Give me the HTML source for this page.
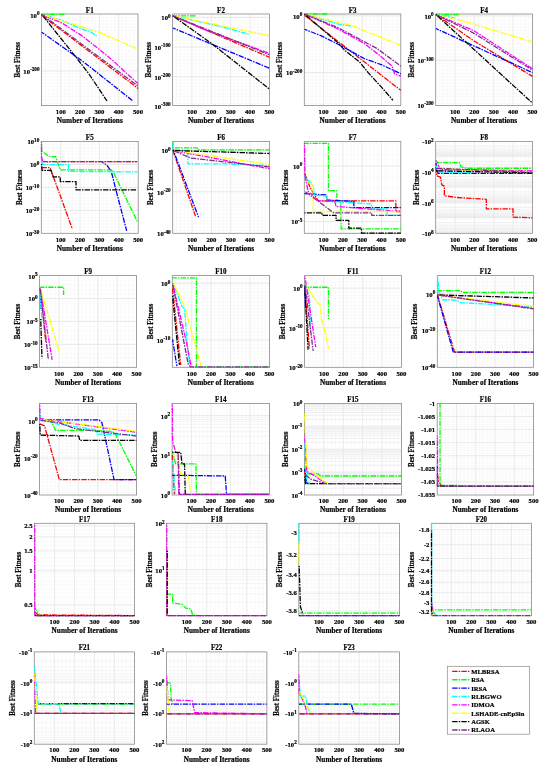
<!DOCTYPE html>
<html><head><meta charset="utf-8"><style>
html,body{margin:0;padding:0;background:#fff;}
svg{display:block;}
text{font-family:"Liberation Serif","Times New Roman",serif;font-weight:bold;fill:#000;stroke:#000;stroke-width:0.2px;}
</style></head><body>
<svg width="550" height="770" viewBox="0 0 550 770">
<rect width="550" height="770" fill="#fff"/>
<path d="M45.36 14V105.6M49.22 14V105.6M53.08 14V105.6M56.94 14V105.6M64.66 14V105.6M68.52 14V105.6M72.38 14V105.6M76.24 14V105.6M83.96 14V105.6M87.82 14V105.6M91.68 14V105.6M95.54 14V105.6M103.26 14V105.6M107.12 14V105.6M110.98 14V105.6M114.84 14V105.6M122.56 14V105.6M126.42 14V105.6M130.28 14V105.6M134.14 14V105.6" stroke="#f6f6f6" stroke-width="0.6" fill="none"/>
<path d="M41.5 17.3H138M41.5 20.6H138M41.5 23.9H138M41.5 27.2H138M41.5 30.5H138M41.5 33.8H138M41.5 37.1H138M41.5 40.4H138M41.5 43.7H138M41.5 47H138M41.5 50.3H138M41.5 53.6H138M41.5 56.9H138M41.5 60.2H138M41.5 63.5H138M41.5 66.8H138M41.5 70.1H138M41.5 73.4H138M41.5 76.7H138M41.5 80H138M41.5 83.3H138M41.5 86.6H138M41.5 89.9H138M41.5 93.2H138M41.5 96.5H138M41.5 99.8H138M41.5 103.1H138" stroke="#f6f6f6" stroke-width="0.6" fill="none"/>
<path d="M60.8 14V105.6M80.1 14V105.6M99.4 14V105.6M118.7 14V105.6M41.5 71H138" stroke="#e4e4e4" stroke-width="0.8" fill="none"/>
<rect x="41.5" y="14" width="96.5" height="91.6" fill="none" stroke="#8a8a8a" stroke-width="0.8"/>
<clipPath id="cF1"><rect x="40.5" y="13" width="98.5" height="93.6"/></clipPath>
<g clip-path="url(#cF1)" fill="none" stroke-width="1.3" stroke-dasharray="5.4,1.1,1.5,1.2" stroke-linejoin="round">
<path d="M41.7 15.3 138 88.4" stroke="#ff0000" stroke-dashoffset="0"/>
<path d="M41.7 14.4 65 14.4" stroke="#00ff00" stroke-dashoffset="1.15"/>
<path d="M41.7 32.2 82.5 61.1 133 101" stroke="#0000ff" stroke-dashoffset="2.3"/>
<path d="M41.7 14.4 61.8 20.2 72.7 25.1 81.4 28.9 90.2 31.6 96.7 36" stroke="#00ffff" stroke-dashoffset="3.45"/>
<path d="M41.7 14.4 50.9 18.5 61.8 22.9 70.5 28.4 81.4 35.4 89.1 41.4 98.9 49.1 115 62.4 125 72 138 83.6" stroke="#ff00ff" stroke-dashoffset="4.6"/>
<path d="M41.7 14.4 98.9 32.2 138 49.2" stroke="#ffff00" stroke-dashoffset="5.75"/>
<path d="M41.7 14.4 78.2 60 89 74 107 101" stroke="#000000" stroke-dashoffset="6.9"/>
<path d="M41.7 14.4 138 86" stroke="#7e2f8e" stroke-dashoffset="8.05"/>
</g>
<text x="89.75" y="12.5" text-anchor="middle" font-size="7.4" textLength="7.78" lengthAdjust="spacingAndGlyphs">F1</text>
<text x="60.8" y="113.8" text-anchor="middle" font-size="6.7">100</text>
<text x="80.1" y="113.8" text-anchor="middle" font-size="6.7">200</text>
<text x="99.4" y="113.8" text-anchor="middle" font-size="6.7">300</text>
<text x="118.7" y="113.8" text-anchor="middle" font-size="6.7">400</text>
<text x="138" y="113.8" text-anchor="middle" font-size="6.7">500</text>
<text x="89.75" y="122.9" text-anchor="middle" font-size="7.25" textLength="66" lengthAdjust="spacing">Number of Iterations</text>
<text transform="translate(19.5 59.8) rotate(-90)" x="0" y="0" text-anchor="middle" font-size="7.7" textLength="35.4" lengthAdjust="spacingAndGlyphs">Best Fitness</text>
<text x="39.5" y="17.7" text-anchor="end" font-size="6.7">10<tspan dy="-2.7" font-size="5.2">0</tspan></text>
<text x="39.5" y="73.9" text-anchor="end" font-size="6.7">10<tspan dy="-2.7" font-size="5.2">-200</tspan></text>
<path d="M176.47 14V105.6M180.34 14V105.6M184.22 14V105.6M188.09 14V105.6M195.83 14V105.6M199.7 14V105.6M203.58 14V105.6M207.45 14V105.6M215.19 14V105.6M219.06 14V105.6M222.94 14V105.6M226.81 14V105.6M234.55 14V105.6M238.42 14V105.6M242.3 14V105.6M246.17 14V105.6M253.91 14V105.6M257.78 14V105.6M261.66 14V105.6M265.53 14V105.6" stroke="#f6f6f6" stroke-width="0.6" fill="none"/>
<path d="M172.6 17.3H269.4M172.6 20.6H269.4M172.6 23.9H269.4M172.6 27.2H269.4M172.6 30.5H269.4M172.6 33.8H269.4M172.6 37.1H269.4M172.6 40.4H269.4M172.6 43.7H269.4M172.6 47H269.4M172.6 50.3H269.4M172.6 53.6H269.4M172.6 56.9H269.4M172.6 60.2H269.4M172.6 63.5H269.4M172.6 66.8H269.4M172.6 70.1H269.4M172.6 73.4H269.4M172.6 76.7H269.4M172.6 80H269.4M172.6 83.3H269.4M172.6 86.6H269.4M172.6 89.9H269.4M172.6 93.2H269.4M172.6 96.5H269.4M172.6 99.8H269.4M172.6 103.1H269.4" stroke="#f6f6f6" stroke-width="0.6" fill="none"/>
<path d="M191.96 14V105.6M211.32 14V105.6M230.68 14V105.6M250.04 14V105.6M172.6 17.4H269.4M172.6 47H269.4M172.6 76.6H269.4" stroke="#e4e4e4" stroke-width="0.8" fill="none"/>
<rect x="172.6" y="14" width="96.8" height="91.6" fill="none" stroke="#8a8a8a" stroke-width="0.8"/>
<clipPath id="cF2"><rect x="171.6" y="13" width="98.8" height="93.6"/></clipPath>
<g clip-path="url(#cF2)" fill="none" stroke-width="1.3" stroke-dasharray="5.4,1.1,1.5,1.2" stroke-linejoin="round">
<path d="M172.8 15.78 269.4 57.25" stroke="#ff0000" stroke-dashoffset="0"/>
<path d="M172.8 15.78 195.98 15.78" stroke="#00ff00" stroke-dashoffset="1.15"/>
<path d="M172.8 27.99 269.4 68.19" stroke="#0000ff" stroke-dashoffset="2.3"/>
<path d="M172.8 15.78 216.34 25.45 249.41 34.35" stroke="#00ffff" stroke-dashoffset="3.45"/>
<path d="M172.8 15.78 203.61 29.26 269.4 53.44" stroke="#ff00ff" stroke-dashoffset="4.6"/>
<path d="M172.8 15.78 269.4 35.62" stroke="#ffff00" stroke-dashoffset="5.75"/>
<path d="M172.8 15.78 211.25 43.26 269.4 89.06" stroke="#000000" stroke-dashoffset="6.9"/>
<path d="M172.8 15.78 269.4 54.71" stroke="#7e2f8e" stroke-dashoffset="8.05"/>
</g>
<text x="221" y="12.5" text-anchor="middle" font-size="7.4" textLength="7.78" lengthAdjust="spacingAndGlyphs">F2</text>
<text x="191.96" y="113.8" text-anchor="middle" font-size="6.7">100</text>
<text x="211.32" y="113.8" text-anchor="middle" font-size="6.7">200</text>
<text x="230.68" y="113.8" text-anchor="middle" font-size="6.7">300</text>
<text x="250.04" y="113.8" text-anchor="middle" font-size="6.7">400</text>
<text x="269.4" y="113.8" text-anchor="middle" font-size="6.7">500</text>
<text x="221" y="122.9" text-anchor="middle" font-size="7.25" textLength="66" lengthAdjust="spacing">Number of Iterations</text>
<text transform="translate(151.1 59.8) rotate(-90)" x="0" y="0" text-anchor="middle" font-size="7.7" textLength="35.4" lengthAdjust="spacingAndGlyphs">Best Fitness</text>
<text x="170.6" y="20.3" text-anchor="end" font-size="6.7">10<tspan dy="-2.7" font-size="5.2">0</tspan></text>
<text x="170.6" y="49.9" text-anchor="end" font-size="6.7">10<tspan dy="-2.7" font-size="5.2">-100</tspan></text>
<text x="170.6" y="79.5" text-anchor="end" font-size="6.7">10<tspan dy="-2.7" font-size="5.2">-200</tspan></text>
<text x="170.6" y="109.1" text-anchor="end" font-size="6.7">10<tspan dy="-2.7" font-size="5.2">-300</tspan></text>
<path d="M308.16 14V105.6M312.02 14V105.6M315.88 14V105.6M319.74 14V105.6M327.46 14V105.6M331.32 14V105.6M335.18 14V105.6M339.04 14V105.6M346.76 14V105.6M350.62 14V105.6M354.48 14V105.6M358.34 14V105.6M366.06 14V105.6M369.92 14V105.6M373.78 14V105.6M377.64 14V105.6M385.36 14V105.6M389.22 14V105.6M393.08 14V105.6M396.94 14V105.6" stroke="#f6f6f6" stroke-width="0.6" fill="none"/>
<path d="M304.3 17.3H400.8M304.3 20.6H400.8M304.3 23.9H400.8M304.3 27.2H400.8M304.3 30.5H400.8M304.3 33.8H400.8M304.3 37.1H400.8M304.3 40.4H400.8M304.3 43.7H400.8M304.3 47H400.8M304.3 50.3H400.8M304.3 53.6H400.8M304.3 56.9H400.8M304.3 60.2H400.8M304.3 63.5H400.8M304.3 66.8H400.8M304.3 70.1H400.8M304.3 73.4H400.8M304.3 76.7H400.8M304.3 80H400.8M304.3 83.3H400.8M304.3 86.6H400.8M304.3 89.9H400.8M304.3 93.2H400.8M304.3 96.5H400.8M304.3 99.8H400.8M304.3 103.1H400.8" stroke="#f6f6f6" stroke-width="0.6" fill="none"/>
<path d="M323.6 14V105.6M342.9 14V105.6M362.2 14V105.6M381.5 14V105.6M304.3 15.8H400.8M304.3 72.5H400.8" stroke="#e4e4e4" stroke-width="0.8" fill="none"/>
<rect x="304.3" y="14" width="96.5" height="91.6" fill="none" stroke="#8a8a8a" stroke-width="0.8"/>
<clipPath id="cF3"><rect x="303.3" y="13" width="98.5" height="93.6"/></clipPath>
<g clip-path="url(#cF3)" fill="none" stroke-width="1.3" stroke-dasharray="5.4,1.1,1.5,1.2" stroke-linejoin="round">
<path d="M304.5 15.27 400.8 90.33" stroke="#ff0000" stroke-dashoffset="0"/>
<path d="M304.5 14 328.44 14" stroke="#00ff00" stroke-dashoffset="1.15"/>
<path d="M304.5 29.26 320.8 35.62 341.16 45.8 364.06 58.52 381.87 64.89 400.8 73.79" stroke="#0000ff" stroke-dashoffset="2.3"/>
<path d="M304.5 14 338.61 24.17 351.34 25.95" stroke="#00ffff" stroke-dashoffset="3.45"/>
<path d="M304.5 14 338.61 29.26 364.06 43.26 381.87 57.25 392.05 66.16 394.59 73.79 400.8 76.34" stroke="#ff00ff" stroke-dashoffset="4.6"/>
<path d="M304.5 14 351.34 25.45 400.8 45.29" stroke="#ffff00" stroke-dashoffset="5.75"/>
<path d="M304.5 14 338.61 43.26 344.9 50.51 359.61 62.01 368.38 72.9 381.41 87.1 392.91 100.2" stroke="#000000" stroke-dashoffset="6.9"/>
<path d="M304.5 14 338.61 27.99 376.78 48.35 400.8 66.16" stroke="#7e2f8e" stroke-dashoffset="8.05"/>
</g>
<text x="352.55" y="12.5" text-anchor="middle" font-size="7.4" textLength="7.78" lengthAdjust="spacingAndGlyphs">F3</text>
<text x="323.6" y="113.8" text-anchor="middle" font-size="6.7">100</text>
<text x="342.9" y="113.8" text-anchor="middle" font-size="6.7">200</text>
<text x="362.2" y="113.8" text-anchor="middle" font-size="6.7">300</text>
<text x="381.5" y="113.8" text-anchor="middle" font-size="6.7">400</text>
<text x="400.8" y="113.8" text-anchor="middle" font-size="6.7">500</text>
<text x="352.55" y="122.9" text-anchor="middle" font-size="7.25" textLength="66" lengthAdjust="spacing">Number of Iterations</text>
<text transform="translate(281.8 59.8) rotate(-90)" x="0" y="0" text-anchor="middle" font-size="7.7" textLength="35.4" lengthAdjust="spacingAndGlyphs">Best Fitness</text>
<text x="302.3" y="18.7" text-anchor="end" font-size="6.7">10<tspan dy="-2.7" font-size="5.2">0</tspan></text>
<text x="302.3" y="75.4" text-anchor="end" font-size="6.7">10<tspan dy="-2.7" font-size="5.2">-200</tspan></text>
<path d="M439.57 14V105.6M443.44 14V105.6M447.3 14V105.6M451.17 14V105.6M458.91 14V105.6M462.78 14V105.6M466.64 14V105.6M470.51 14V105.6M478.25 14V105.6M482.12 14V105.6M485.98 14V105.6M489.85 14V105.6M497.59 14V105.6M501.46 14V105.6M505.32 14V105.6M509.19 14V105.6M516.93 14V105.6M520.8 14V105.6M524.66 14V105.6M528.53 14V105.6" stroke="#f6f6f6" stroke-width="0.6" fill="none"/>
<path d="M435.7 17.3H532.4M435.7 20.6H532.4M435.7 23.9H532.4M435.7 27.2H532.4M435.7 30.5H532.4M435.7 33.8H532.4M435.7 37.1H532.4M435.7 40.4H532.4M435.7 43.7H532.4M435.7 47H532.4M435.7 50.3H532.4M435.7 53.6H532.4M435.7 56.9H532.4M435.7 60.2H532.4M435.7 63.5H532.4M435.7 66.8H532.4M435.7 70.1H532.4M435.7 73.4H532.4M435.7 76.7H532.4M435.7 80H532.4M435.7 83.3H532.4M435.7 86.6H532.4M435.7 89.9H532.4M435.7 93.2H532.4M435.7 96.5H532.4M435.7 99.8H532.4M435.7 103.1H532.4" stroke="#f6f6f6" stroke-width="0.6" fill="none"/>
<path d="M455.04 14V105.6M474.38 14V105.6M493.72 14V105.6M513.06 14V105.6M435.7 15.8H532.4M435.7 60.3H532.4" stroke="#e4e4e4" stroke-width="0.8" fill="none"/>
<rect x="435.7" y="14" width="96.7" height="91.6" fill="none" stroke="#8a8a8a" stroke-width="0.8"/>
<clipPath id="cF4"><rect x="434.7" y="13" width="98.7" height="93.6"/></clipPath>
<g clip-path="url(#cF4)" fill="none" stroke-width="1.3" stroke-dasharray="5.4,1.1,1.5,1.2" stroke-linejoin="round">
<path d="M435.9 14.5 473.61 40.71 532.4 76.34" stroke="#ff0000" stroke-dashoffset="0"/>
<path d="M435.9 14.5 459.62 14.5" stroke="#00ff00" stroke-dashoffset="1.15"/>
<path d="M435.9 28.5 473.61 45.8 532.4 72.52" stroke="#0000ff" stroke-dashoffset="2.3"/>
<path d="M435.9 14.5 454.53 17.81" stroke="#00ffff" stroke-dashoffset="3.45"/>
<path d="M435.9 14.5 473.61 30.53 532.4 68.7" stroke="#ff00ff" stroke-dashoffset="4.6"/>
<path d="M435.9 14.5 460.89 20.36 532.4 41.98" stroke="#ffff00" stroke-dashoffset="5.75"/>
<path d="M435.9 14.5 532.4 103.05" stroke="#000000" stroke-dashoffset="6.9"/>
<path d="M435.9 14.5 473.61 33.08 532.4 69.97" stroke="#7e2f8e" stroke-dashoffset="8.05"/>
</g>
<text x="484.05" y="12.5" text-anchor="middle" font-size="7.4" textLength="7.78" lengthAdjust="spacingAndGlyphs">F4</text>
<text x="455.04" y="113.8" text-anchor="middle" font-size="6.7">100</text>
<text x="474.38" y="113.8" text-anchor="middle" font-size="6.7">200</text>
<text x="493.72" y="113.8" text-anchor="middle" font-size="6.7">300</text>
<text x="513.06" y="113.8" text-anchor="middle" font-size="6.7">400</text>
<text x="532.4" y="113.8" text-anchor="middle" font-size="6.7">500</text>
<text x="484.05" y="122.9" text-anchor="middle" font-size="7.25" textLength="66" lengthAdjust="spacing">Number of Iterations</text>
<text transform="translate(414.2 59.8) rotate(-90)" x="0" y="0" text-anchor="middle" font-size="7.7" textLength="35.4" lengthAdjust="spacingAndGlyphs">Best Fitness</text>
<text x="433.7" y="18.7" text-anchor="end" font-size="6.7">10<tspan dy="-2.7" font-size="5.2">0</tspan></text>
<text x="433.7" y="63.2" text-anchor="end" font-size="6.7">10<tspan dy="-2.7" font-size="5.2">-100</tspan></text>
<text x="433.7" y="107.7" text-anchor="end" font-size="6.7">10<tspan dy="-2.7" font-size="5.2">-200</tspan></text>
<path d="M45.18 141.5V233.3M49.05 141.5V233.3M52.93 141.5V233.3M56.8 141.5V233.3M64.56 141.5V233.3M68.43 141.5V233.3M72.31 141.5V233.3M76.18 141.5V233.3M83.94 141.5V233.3M87.81 141.5V233.3M91.69 141.5V233.3M95.56 141.5V233.3M103.32 141.5V233.3M107.19 141.5V233.3M111.07 141.5V233.3M114.94 141.5V233.3M122.7 141.5V233.3M126.57 141.5V233.3M130.45 141.5V233.3M134.32 141.5V233.3" stroke="#f6f6f6" stroke-width="0.6" fill="none"/>
<path d="M41.3 144.8H138.2M41.3 148.1H138.2M41.3 151.4H138.2M41.3 154.7H138.2M41.3 158H138.2M41.3 161.3H138.2M41.3 164.6H138.2M41.3 167.9H138.2M41.3 171.2H138.2M41.3 174.5H138.2M41.3 177.8H138.2M41.3 181.1H138.2M41.3 184.4H138.2M41.3 187.7H138.2M41.3 191H138.2M41.3 194.3H138.2M41.3 197.6H138.2M41.3 200.9H138.2M41.3 204.2H138.2M41.3 207.5H138.2M41.3 210.8H138.2M41.3 214.1H138.2M41.3 217.4H138.2M41.3 220.7H138.2M41.3 224H138.2M41.3 227.3H138.2M41.3 230.6H138.2" stroke="#f6f6f6" stroke-width="0.6" fill="none"/>
<path d="M60.68 141.5V233.3M80.06 141.5V233.3M99.44 141.5V233.3M118.82 141.5V233.3M41.3 164.45H138.2M41.3 187.4H138.2M41.3 210.35H138.2" stroke="#e4e4e4" stroke-width="0.8" fill="none"/>
<rect x="41.3" y="141.5" width="96.9" height="91.8" fill="none" stroke="#8a8a8a" stroke-width="0.8"/>
<clipPath id="cF5"><rect x="40.3" y="140.5" width="98.9" height="93.8"/></clipPath>
<g clip-path="url(#cF5)" fill="none" stroke-width="1.3" stroke-dasharray="5.4,1.1,1.5,1.2" stroke-linejoin="round">
<path d="M41.5 167.68 50.06 167.68 72.32 228.91" stroke="#ff0000" stroke-dashoffset="0"/>
<path d="M41.5 145.42 41.71 150.99 49.13 156.55 55.63 156.55 60.26 169.91 112.21 169.91 137.26 221.49" stroke="#00ff00" stroke-dashoffset="1.15"/>
<path d="M101.08 161.56 106.65 164.9 111.28 171.4 115.92 189.95 126.68 230.76" stroke="#0000ff" stroke-dashoffset="2.3"/>
<path d="M41.5 156.55 42.64 164.53 68.61 164.53 68.61 171.4 137.26 171.95" stroke="#00ffff" stroke-dashoffset="3.45"/>
<path d="M41.5 142.08 41.5 156.55 42.64 161.56 137.26 161.56" stroke="#ff00ff" stroke-dashoffset="4.6"/>
<path d="M41.5 161.56 137.26 161.56" stroke="#ffff00" stroke-dashoffset="5.75"/>
<path d="M41.5 163.97 42.08 170.47 50.99 170.47 53.21 176.96 60.26 176.96 60.26 181.6 76.03 181.6 76.03 189.95 137.26 189.95" stroke="#000000" stroke-dashoffset="6.9"/>
<path d="M41.5 161.56 137.26 161.56" stroke="#7e2f8e" stroke-dashoffset="8.05"/>
</g>
<text x="89.75" y="140" text-anchor="middle" font-size="7.4" textLength="7.78" lengthAdjust="spacingAndGlyphs">F5</text>
<text x="60.68" y="241.5" text-anchor="middle" font-size="6.7">100</text>
<text x="80.06" y="241.5" text-anchor="middle" font-size="6.7">200</text>
<text x="99.44" y="241.5" text-anchor="middle" font-size="6.7">300</text>
<text x="118.82" y="241.5" text-anchor="middle" font-size="6.7">400</text>
<text x="138.2" y="241.5" text-anchor="middle" font-size="6.7">500</text>
<text x="89.75" y="250.6" text-anchor="middle" font-size="7.25" textLength="66" lengthAdjust="spacing">Number of Iterations</text>
<text transform="translate(22 187.4) rotate(-90)" x="0" y="0" text-anchor="middle" font-size="7.7" textLength="35.4" lengthAdjust="spacingAndGlyphs">Best Fitness</text>
<text x="39.3" y="144.4" text-anchor="end" font-size="6.7">10<tspan dy="-2.7" font-size="5.2">10</tspan></text>
<text x="39.3" y="167.35" text-anchor="end" font-size="6.7">10<tspan dy="-2.7" font-size="5.2">0</tspan></text>
<text x="39.3" y="190.3" text-anchor="end" font-size="6.7">10<tspan dy="-2.7" font-size="5.2">-10</tspan></text>
<text x="39.3" y="213.25" text-anchor="end" font-size="6.7">10<tspan dy="-2.7" font-size="5.2">-20</tspan></text>
<text x="39.3" y="236.2" text-anchor="end" font-size="6.7">10<tspan dy="-2.7" font-size="5.2">-30</tspan></text>
<path d="M176.57 141.5V233.3M180.44 141.5V233.3M184.32 141.5V233.3M188.19 141.5V233.3M195.93 141.5V233.3M199.8 141.5V233.3M203.68 141.5V233.3M207.55 141.5V233.3M215.29 141.5V233.3M219.16 141.5V233.3M223.04 141.5V233.3M226.91 141.5V233.3M234.65 141.5V233.3M238.52 141.5V233.3M242.4 141.5V233.3M246.27 141.5V233.3M254.01 141.5V233.3M257.88 141.5V233.3M261.76 141.5V233.3M265.63 141.5V233.3" stroke="#f6f6f6" stroke-width="0.6" fill="none"/>
<path d="M172.7 144.8H269.5M172.7 148.1H269.5M172.7 151.4H269.5M172.7 154.7H269.5M172.7 158H269.5M172.7 161.3H269.5M172.7 164.6H269.5M172.7 167.9H269.5M172.7 171.2H269.5M172.7 174.5H269.5M172.7 177.8H269.5M172.7 181.1H269.5M172.7 184.4H269.5M172.7 187.7H269.5M172.7 191H269.5M172.7 194.3H269.5M172.7 197.6H269.5M172.7 200.9H269.5M172.7 204.2H269.5M172.7 207.5H269.5M172.7 210.8H269.5M172.7 214.1H269.5M172.7 217.4H269.5M172.7 220.7H269.5M172.7 224H269.5M172.7 227.3H269.5M172.7 230.6H269.5" stroke="#f6f6f6" stroke-width="0.6" fill="none"/>
<path d="M192.06 141.5V233.3M211.42 141.5V233.3M230.78 141.5V233.3M250.14 141.5V233.3M172.7 150.3H269.5M172.7 191.8H269.5" stroke="#e4e4e4" stroke-width="0.8" fill="none"/>
<rect x="172.7" y="141.5" width="96.8" height="91.8" fill="none" stroke="#8a8a8a" stroke-width="0.8"/>
<clipPath id="cF6"><rect x="171.7" y="140.5" width="98.8" height="93.8"/></clipPath>
<g clip-path="url(#cF6)" fill="none" stroke-width="1.3" stroke-dasharray="5.4,1.1,1.5,1.2" stroke-linejoin="round">
<path d="M172.9 150.45 195.47 216.09" stroke="#ff0000" stroke-dashoffset="0"/>
<path d="M172.9 141.54 173.08 147.9 197.25 147.9 198.02 149.94 269.5 149.94" stroke="#00ff00" stroke-dashoffset="1.15"/>
<path d="M172.9 149.17 198.52 217.11" stroke="#0000ff" stroke-dashoffset="2.3"/>
<path d="M172.9 142.81 173.08 150.45 187.84 150.45 187.84 163.93 229.06 163.93 269.5 165.71" stroke="#00ffff" stroke-dashoffset="3.45"/>
<path d="M172.9 150.45 269.5 168.77" stroke="#ff00ff" stroke-dashoffset="4.6"/>
<path d="M172.9 150.45 269.5 164.44" stroke="#ffff00" stroke-dashoffset="5.75"/>
<path d="M172.9 150.45 269.5 153.5" stroke="#000000" stroke-dashoffset="6.9"/>
<path d="M172.9 150.45 190.89 158.08 269.5 166.98" stroke="#7e2f8e" stroke-dashoffset="8.05"/>
</g>
<text x="221.1" y="140" text-anchor="middle" font-size="7.4" textLength="7.78" lengthAdjust="spacingAndGlyphs">F6</text>
<text x="192.06" y="241.5" text-anchor="middle" font-size="6.7">100</text>
<text x="211.42" y="241.5" text-anchor="middle" font-size="6.7">200</text>
<text x="230.78" y="241.5" text-anchor="middle" font-size="6.7">300</text>
<text x="250.14" y="241.5" text-anchor="middle" font-size="6.7">400</text>
<text x="269.5" y="241.5" text-anchor="middle" font-size="6.7">500</text>
<text x="221.1" y="250.6" text-anchor="middle" font-size="7.25" textLength="66" lengthAdjust="spacing">Number of Iterations</text>
<text transform="translate(152.9 187.4) rotate(-90)" x="0" y="0" text-anchor="middle" font-size="7.7" textLength="35.4" lengthAdjust="spacingAndGlyphs">Best Fitness</text>
<text x="170.7" y="153.2" text-anchor="end" font-size="6.7">10<tspan dy="-2.7" font-size="5.2">0</tspan></text>
<text x="170.7" y="194.7" text-anchor="end" font-size="6.7">10<tspan dy="-2.7" font-size="5.2">-20</tspan></text>
<text x="170.7" y="236.2" text-anchor="end" font-size="6.7">10<tspan dy="-2.7" font-size="5.2">-40</tspan></text>
<path d="M308.16 141.5V233.3M312.02 141.5V233.3M315.88 141.5V233.3M319.74 141.5V233.3M327.46 141.5V233.3M331.32 141.5V233.3M335.18 141.5V233.3M339.04 141.5V233.3M346.76 141.5V233.3M350.62 141.5V233.3M354.48 141.5V233.3M358.34 141.5V233.3M366.06 141.5V233.3M369.92 141.5V233.3M373.78 141.5V233.3M377.64 141.5V233.3M385.36 141.5V233.3M389.22 141.5V233.3M393.08 141.5V233.3M396.94 141.5V233.3" stroke="#f6f6f6" stroke-width="0.6" fill="none"/>
<path d="M304.3 143.8H400.8M304.3 154.9H400.8M304.3 177.1H400.8M304.3 188.2H400.8M304.3 199.3H400.8M304.3 210.4H400.8M304.3 232.6H400.8" stroke="#f6f6f6" stroke-width="0.6" fill="none"/>
<path d="M323.6 141.5V233.3M342.9 141.5V233.3M362.2 141.5V233.3M381.5 141.5V233.3M304.3 166H400.8M304.3 221.5H400.8" stroke="#e4e4e4" stroke-width="0.8" fill="none"/>
<rect x="304.3" y="141.5" width="96.5" height="91.8" fill="none" stroke="#8a8a8a" stroke-width="0.8"/>
<clipPath id="cF7"><rect x="303.3" y="140.5" width="98.5" height="93.8"/></clipPath>
<g clip-path="url(#cF7)" fill="none" stroke-width="1.3" stroke-dasharray="5.4,1.1,1.5,1.2" stroke-linejoin="round">
<path d="M304.5 173.35 310.62 188.61 318.26 200.83 395.87 200.83 395.87 211.51 400.8 211.51" stroke="#ff0000" stroke-dashoffset="0"/>
<path d="M304.5 143.32 328.44 143.32 328.44 190.65 336.83 190.65 336.83 201.34 340.65 201.34 341.16 228.82 400.8 228.82" stroke="#00ff00" stroke-dashoffset="1.15"/>
<path d="M304.5 193.7 325.89 194.97 327.16 200.06 353.88 201.34 353.88 207.7 400.8 207.7" stroke="#0000ff" stroke-dashoffset="2.3"/>
<path d="M304.5 175.89 313.17 186.07 314.44 194.97 327.16 196.25 327.16 201.34 371.69 203.88 371.69 208.97 386.96 208.97 386.96 215.33 400.8 215.33" stroke="#00ffff" stroke-dashoffset="3.45"/>
<path d="M304.5 143.32 305.03 175.89 308.08 191.16 318.26 200.83 334.8 201.34 336.07 206.42 400.8 211.51" stroke="#ff00ff" stroke-dashoffset="4.6"/>
<path d="M304.5 180.98 313.17 184.8 313.17 211.51 400.8 211.51" stroke="#ffff00" stroke-dashoffset="5.75"/>
<path d="M304.5 212.79 322.07 212.79 322.07 215.33 336.07 215.33 336.07 220.42 348.79 220.42 348.79 228.05 361.51 228.05 361.51 233.1 400.8 233.1" stroke="#000000" stroke-dashoffset="6.9"/>
<path d="M304.5 191.16 318.26 201.34 333.52 212.79 371.69 212.79 371.69 215.33 400.8 215.33" stroke="#7e2f8e" stroke-dashoffset="8.05"/>
</g>
<text x="352.55" y="140" text-anchor="middle" font-size="7.4" textLength="7.78" lengthAdjust="spacingAndGlyphs">F7</text>
<text x="323.6" y="241.5" text-anchor="middle" font-size="6.7">100</text>
<text x="342.9" y="241.5" text-anchor="middle" font-size="6.7">200</text>
<text x="362.2" y="241.5" text-anchor="middle" font-size="6.7">300</text>
<text x="381.5" y="241.5" text-anchor="middle" font-size="6.7">400</text>
<text x="400.8" y="241.5" text-anchor="middle" font-size="6.7">500</text>
<text x="352.55" y="250.6" text-anchor="middle" font-size="7.25" textLength="66" lengthAdjust="spacing">Number of Iterations</text>
<text transform="translate(287.9 187.4) rotate(-90)" x="0" y="0" text-anchor="middle" font-size="7.7" textLength="35.4" lengthAdjust="spacingAndGlyphs">Best Fitness</text>
<text x="302.3" y="168.9" text-anchor="end" font-size="6.7">10<tspan dy="-2.7" font-size="5.2">0</tspan></text>
<text x="302.3" y="224.4" text-anchor="end" font-size="6.7">10<tspan dy="-2.7" font-size="5.2">-5</tspan></text>
<path d="M439.57 141.5V233.3M443.44 141.5V233.3M447.3 141.5V233.3M451.17 141.5V233.3M458.91 141.5V233.3M462.78 141.5V233.3M466.64 141.5V233.3M470.51 141.5V233.3M478.25 141.5V233.3M482.12 141.5V233.3M485.98 141.5V233.3M489.85 141.5V233.3M497.59 141.5V233.3M501.46 141.5V233.3M505.32 141.5V233.3M509.19 141.5V233.3M516.93 141.5V233.3M520.8 141.5V233.3M524.66 141.5V233.3M528.53 141.5V233.3" stroke="#f6f6f6" stroke-width="0.6" fill="none"/>
<path d="M435.7 146.11H532.4M435.7 148.8H532.4M435.7 150.71H532.4M435.7 152.19H532.4M435.7 153.41H532.4M435.7 154.43H532.4M435.7 155.32H532.4M435.7 156.1H532.4M435.7 156.8H532.4M435.7 161.41H532.4M435.7 164.1H532.4M435.7 166.01H532.4M435.7 167.49H532.4M435.7 168.71H532.4M435.7 169.73H532.4M435.7 170.62H532.4M435.7 171.4H532.4M435.7 176.71H532.4M435.7 179.4H532.4M435.7 181.31H532.4M435.7 182.79H532.4M435.7 184.01H532.4M435.7 185.03H532.4M435.7 185.92H532.4M435.7 186.7H532.4M435.7 187.4H532.4M435.7 192.01H532.4M435.7 194.7H532.4M435.7 196.61H532.4M435.7 198.09H532.4M435.7 199.31H532.4M435.7 200.33H532.4M435.7 201.22H532.4M435.7 202H532.4M435.7 207.31H532.4M435.7 210H532.4M435.7 211.91H532.4M435.7 213.39H532.4M435.7 214.61H532.4M435.7 215.63H532.4M435.7 216.52H532.4M435.7 217.3H532.4M435.7 218H532.4M435.7 222.61H532.4M435.7 225.3H532.4M435.7 227.21H532.4M435.7 228.69H532.4M435.7 229.91H532.4M435.7 230.93H532.4M435.7 231.82H532.4M435.7 232.6H532.4" stroke="#e6e6e6" stroke-width="0.6" fill="none"/>
<path d="M455.04 141.5V233.3M474.38 141.5V233.3M493.72 141.5V233.3M513.06 141.5V233.3M435.7 172.1H532.4M435.7 202.7H532.4" stroke="#e4e4e4" stroke-width="0.8" fill="none"/>
<rect x="435.7" y="141.5" width="96.7" height="91.8" fill="none" stroke="#8a8a8a" stroke-width="0.8"/>
<clipPath id="cF8"><rect x="434.7" y="140.5" width="98.7" height="93.8"/></clipPath>
<g clip-path="url(#cF8)" fill="none" stroke-width="1.3" stroke-dasharray="5.4,1.1,1.5,1.2" stroke-linejoin="round">
<path d="M435.9 166.98 436.72 175.89 440.53 177.16 441.81 184.8 444.35 186.07 444.35 195.74 457.07 197.52 486.34 199.3 486.34 208.97 513.05 208.97 513.05 217.11 532.4 217.88" stroke="#ff0000" stroke-dashoffset="0"/>
<path d="M435.9 160.62 437.99 162.66 459.62 162.66 460.89 166.98 468.52 168.26 532.4 168.26" stroke="#00ff00" stroke-dashoffset="1.15"/>
<path d="M435.9 163.17 437.99 173.35 532.4 173.35" stroke="#0000ff" stroke-dashoffset="2.3"/>
<path d="M435.9 165.71 440.53 172.07 471.07 172.58" stroke="#00ffff" stroke-dashoffset="3.45"/>
<path d="M435.9 160.62 440.53 169.53 532.4 170.8" stroke="#ff00ff" stroke-dashoffset="4.6"/>
<path d="M435.9 166.98 471.07 170.8 532.4 171.56" stroke="#ffff00" stroke-dashoffset="5.75"/>
<path d="M435.9 170.8 532.4 172.84" stroke="#000000" stroke-dashoffset="6.9"/>
<path d="M435.9 168.26 532.4 172.33" stroke="#7e2f8e" stroke-dashoffset="8.05"/>
</g>
<text x="484.05" y="140" text-anchor="middle" font-size="7.4" textLength="7.78" lengthAdjust="spacingAndGlyphs">F8</text>
<text x="455.04" y="241.5" text-anchor="middle" font-size="6.7">100</text>
<text x="474.38" y="241.5" text-anchor="middle" font-size="6.7">200</text>
<text x="493.72" y="241.5" text-anchor="middle" font-size="6.7">300</text>
<text x="513.06" y="241.5" text-anchor="middle" font-size="6.7">400</text>
<text x="532.4" y="241.5" text-anchor="middle" font-size="6.7">500</text>
<text x="484.05" y="250.6" text-anchor="middle" font-size="7.25" textLength="66" lengthAdjust="spacing">Number of Iterations</text>
<text transform="translate(419.3 187.4) rotate(-90)" x="0" y="0" text-anchor="middle" font-size="7.7" textLength="35.4" lengthAdjust="spacingAndGlyphs">Best Fitness</text>
<text x="433.7" y="144.4" text-anchor="end" font-size="6.7">-10<tspan dy="-2.7" font-size="5.2">2</tspan></text>
<text x="433.7" y="175" text-anchor="end" font-size="6.7">-10<tspan dy="-2.7" font-size="5.2">4</tspan></text>
<text x="433.7" y="205.6" text-anchor="end" font-size="6.7">-10<tspan dy="-2.7" font-size="5.2">6</tspan></text>
<text x="433.7" y="236.2" text-anchor="end" font-size="6.7">-10<tspan dy="-2.7" font-size="5.2">8</tspan></text>
<path d="M43.48 275.6V367.3M47.36 275.6V367.3M51.24 275.6V367.3M55.12 275.6V367.3M62.88 275.6V367.3M66.76 275.6V367.3M70.64 275.6V367.3M74.52 275.6V367.3M82.28 275.6V367.3M86.16 275.6V367.3M90.04 275.6V367.3M93.92 275.6V367.3M101.68 275.6V367.3M105.56 275.6V367.3M109.44 275.6V367.3M113.32 275.6V367.3M121.08 275.6V367.3M124.96 275.6V367.3M128.84 275.6V367.3M132.72 275.6V367.3" stroke="#f6f6f6" stroke-width="0.6" fill="none"/>
<path d="M39.6 280.18H136.6M39.6 284.76H136.6M39.6 289.34H136.6M39.6 293.92H136.6M39.6 303.08H136.6M39.6 307.66H136.6M39.6 312.24H136.6M39.6 316.82H136.6M39.6 325.98H136.6M39.6 330.56H136.6M39.6 335.14H136.6M39.6 339.72H136.6M39.6 348.88H136.6M39.6 353.46H136.6M39.6 358.04H136.6M39.6 362.62H136.6" stroke="#f6f6f6" stroke-width="0.6" fill="none"/>
<path d="M59 275.6V367.3M78.4 275.6V367.3M97.8 275.6V367.3M117.2 275.6V367.3M39.6 298.5H136.6M39.6 321.4H136.6M39.6 344.4H136.6" stroke="#e4e4e4" stroke-width="0.8" fill="none"/>
<rect x="39.6" y="275.6" width="97" height="91.7" fill="none" stroke="#8a8a8a" stroke-width="0.8"/>
<clipPath id="cF9"><rect x="38.6" y="274.6" width="99" height="93.7"/></clipPath>
<g clip-path="url(#cF9)" fill="none" stroke-width="1.3" stroke-dasharray="5.4,1.1,1.5,1.2" stroke-linejoin="round">
<path d="M40.2 288.03 45.8 341.97" stroke="#ff0000" stroke-dashoffset="0"/>
<path d="M40.2 287.26 63.61 287.26 63.61 294.9" stroke="#00ff00" stroke-dashoffset="1.15"/>
<path d="M40.2 288.03 41.22 308.89" stroke="#0000ff" stroke-dashoffset="2.3"/>
<path d="M40.2 288.03 41.98 321.61" stroke="#00ffff" stroke-dashoffset="3.45"/>
<path d="M40.2 288.03 52.16 359.78" stroke="#ff00ff" stroke-dashoffset="4.6"/>
<path d="M40.2 288.03 59.8 353.42" stroke="#ffff00" stroke-dashoffset="5.75"/>
<path d="M40.71 319.07 41.98 358.51" stroke="#000000" stroke-dashoffset="6.9"/>
<path d="M40.2 288.03 48.35 359.78" stroke="#7e2f8e" stroke-dashoffset="8.05"/>
</g>
<text x="88.1" y="274.1" text-anchor="middle" font-size="7.4" textLength="7.78" lengthAdjust="spacingAndGlyphs">F9</text>
<text x="59" y="375.5" text-anchor="middle" font-size="6.7">100</text>
<text x="78.4" y="375.5" text-anchor="middle" font-size="6.7">200</text>
<text x="97.8" y="375.5" text-anchor="middle" font-size="6.7">300</text>
<text x="117.2" y="375.5" text-anchor="middle" font-size="6.7">400</text>
<text x="136.6" y="375.5" text-anchor="middle" font-size="6.7">500</text>
<text x="88.1" y="384.6" text-anchor="middle" font-size="7.25" textLength="66" lengthAdjust="spacing">Number of Iterations</text>
<text transform="translate(20 321.45) rotate(-90)" x="0" y="0" text-anchor="middle" font-size="7.7" textLength="35.4" lengthAdjust="spacingAndGlyphs">Best Fitness</text>
<text x="37.6" y="278.5" text-anchor="end" font-size="6.7">10<tspan dy="-2.7" font-size="5.2">5</tspan></text>
<text x="37.6" y="301.4" text-anchor="end" font-size="6.7">10<tspan dy="-2.7" font-size="5.2">0</tspan></text>
<text x="37.6" y="324.3" text-anchor="end" font-size="6.7">10<tspan dy="-2.7" font-size="5.2">-5</tspan></text>
<text x="37.6" y="347.3" text-anchor="end" font-size="6.7">10<tspan dy="-2.7" font-size="5.2">-10</tspan></text>
<text x="37.6" y="370.2" text-anchor="end" font-size="6.7">10<tspan dy="-2.7" font-size="5.2">-15</tspan></text>
<path d="M176.18 275.6V367.3M180.07 275.6V367.3M183.95 275.6V367.3M187.84 275.6V367.3M195.6 275.6V367.3M199.49 275.6V367.3M203.37 275.6V367.3M207.26 275.6V367.3M215.02 275.6V367.3M218.91 275.6V367.3M222.79 275.6V367.3M226.68 275.6V367.3M234.44 275.6V367.3M238.33 275.6V367.3M242.21 275.6V367.3M246.1 275.6V367.3M253.86 275.6V367.3M257.75 275.6V367.3M261.63 275.6V367.3M265.52 275.6V367.3" stroke="#f6f6f6" stroke-width="0.6" fill="none"/>
<path d="M172.3 278.9H269.4M172.3 282.2H269.4M172.3 285.5H269.4M172.3 288.8H269.4M172.3 292.1H269.4M172.3 295.4H269.4M172.3 298.7H269.4M172.3 302H269.4M172.3 305.3H269.4M172.3 308.6H269.4M172.3 311.9H269.4M172.3 315.2H269.4M172.3 318.5H269.4M172.3 321.8H269.4M172.3 325.1H269.4M172.3 328.4H269.4M172.3 331.7H269.4M172.3 335H269.4M172.3 338.3H269.4M172.3 341.6H269.4M172.3 344.9H269.4M172.3 348.2H269.4M172.3 351.5H269.4M172.3 354.8H269.4M172.3 358.1H269.4M172.3 361.4H269.4M172.3 364.7H269.4" stroke="#f6f6f6" stroke-width="0.6" fill="none"/>
<path d="M191.72 275.6V367.3M211.14 275.6V367.3M230.56 275.6V367.3M249.98 275.6V367.3M172.3 283.4H269.4M172.3 339.9H269.4" stroke="#e4e4e4" stroke-width="0.8" fill="none"/>
<rect x="172.3" y="275.6" width="97.1" height="91.7" fill="none" stroke="#8a8a8a" stroke-width="0.8"/>
<clipPath id="cF10"><rect x="171.3" y="274.6" width="99.1" height="93.7"/></clipPath>
<g clip-path="url(#cF10)" fill="none" stroke-width="1.3" stroke-dasharray="5.4,1.1,1.5,1.2" stroke-linejoin="round">
<path d="M172.57 288.53 180.71 364.87" stroke="#ff0000" stroke-dashoffset="0"/>
<path d="M172.57 277.85 196.49 277.85 196.49 367.1 269.4 367.1" stroke="#00ff00" stroke-dashoffset="1.15"/>
<path d="M172.57 339.42 176.9 366.14" stroke="#0000ff" stroke-dashoffset="2.3"/>
<path d="M172.57 282.17 181.98 306.35 184.53 308.89 187.07 341.97 189.62 364.87" stroke="#00ffff" stroke-dashoffset="3.45"/>
<path d="M172.57 283.45 185.8 339.42 190.89 364.87" stroke="#ff00ff" stroke-dashoffset="4.6"/>
<path d="M172.57 280.9 184.53 306.35 201.07 366.14" stroke="#ffff00" stroke-dashoffset="5.75"/>
<path d="M172.57 296.17 179.44 364.87" stroke="#000000" stroke-dashoffset="6.9"/>
<path d="M172.57 283.45 188.35 364.87 190.89 366.91 269.4 366.91" stroke="#7e2f8e" stroke-dashoffset="8.05"/>
</g>
<text x="220.85" y="274.1" text-anchor="middle" font-size="7.4" textLength="11.28" lengthAdjust="spacingAndGlyphs">F10</text>
<text x="191.72" y="375.5" text-anchor="middle" font-size="6.7">100</text>
<text x="211.14" y="375.5" text-anchor="middle" font-size="6.7">200</text>
<text x="230.56" y="375.5" text-anchor="middle" font-size="6.7">300</text>
<text x="249.98" y="375.5" text-anchor="middle" font-size="6.7">400</text>
<text x="269.4" y="375.5" text-anchor="middle" font-size="6.7">500</text>
<text x="220.85" y="384.6" text-anchor="middle" font-size="7.25" textLength="66" lengthAdjust="spacing">Number of Iterations</text>
<text transform="translate(152.9 321.45) rotate(-90)" x="0" y="0" text-anchor="middle" font-size="7.7" textLength="35.4" lengthAdjust="spacingAndGlyphs">Best Fitness</text>
<text x="170.3" y="286.3" text-anchor="end" font-size="6.7">10<tspan dy="-2.7" font-size="5.2">0</tspan></text>
<text x="170.3" y="342.8" text-anchor="end" font-size="6.7">10<tspan dy="-2.7" font-size="5.2">-10</tspan></text>
<path d="M308.47 275.6V367.3M312.34 275.6V367.3M316.22 275.6V367.3M320.09 275.6V367.3M327.83 275.6V367.3M331.7 275.6V367.3M335.58 275.6V367.3M339.45 275.6V367.3M347.19 275.6V367.3M351.06 275.6V367.3M354.94 275.6V367.3M358.81 275.6V367.3M366.55 275.6V367.3M370.42 275.6V367.3M374.3 275.6V367.3M378.17 275.6V367.3M385.91 275.6V367.3M389.78 275.6V367.3M393.66 275.6V367.3M397.53 275.6V367.3" stroke="#f6f6f6" stroke-width="0.6" fill="none"/>
<path d="M304.6 278.9H401.4M304.6 282.2H401.4M304.6 285.5H401.4M304.6 288.8H401.4M304.6 292.1H401.4M304.6 295.4H401.4M304.6 298.7H401.4M304.6 302H401.4M304.6 305.3H401.4M304.6 308.6H401.4M304.6 311.9H401.4M304.6 315.2H401.4M304.6 318.5H401.4M304.6 321.8H401.4M304.6 325.1H401.4M304.6 328.4H401.4M304.6 331.7H401.4M304.6 335H401.4M304.6 338.3H401.4M304.6 341.6H401.4M304.6 344.9H401.4M304.6 348.2H401.4M304.6 351.5H401.4M304.6 354.8H401.4M304.6 358.1H401.4M304.6 361.4H401.4M304.6 364.7H401.4" stroke="#f6f6f6" stroke-width="0.6" fill="none"/>
<path d="M323.96 275.6V367.3M343.32 275.6V367.3M362.68 275.6V367.3M382.04 275.6V367.3M304.6 288H401.4M304.6 327.65H401.4" stroke="#e4e4e4" stroke-width="0.8" fill="none"/>
<rect x="304.6" y="275.6" width="96.8" height="91.7" fill="none" stroke="#8a8a8a" stroke-width="0.8"/>
<clipPath id="cF11"><rect x="303.6" y="274.6" width="98.8" height="93.7"/></clipPath>
<g clip-path="url(#cF11)" fill="none" stroke-width="1.3" stroke-dasharray="5.4,1.1,1.5,1.2" stroke-linejoin="round">
<path d="M304.8 285.99 309.35 348.33" stroke="#ff0000" stroke-dashoffset="0"/>
<path d="M304.8 287.26 328.44 287.26 328.44 319.07" stroke="#00ff00" stroke-dashoffset="1.15"/>
<path d="M304.8 285.99 305.53 308.89" stroke="#0000ff" stroke-dashoffset="2.3"/>
<path d="M304.8 283.45 309.35 296.17 310.62 334.34" stroke="#00ffff" stroke-dashoffset="3.45"/>
<path d="M304.8 275.81 315.71 347.06" stroke="#ff00ff" stroke-dashoffset="4.6"/>
<path d="M304.8 283.45 310.62 292.35 314.44 298.71 318.26 303.29 320.29 305.07 321.56 319.07 323.35 326.7 325.38 331.79 328.44 348.33" stroke="#ffff00" stroke-dashoffset="5.75"/>
<path d="M304.8 288.53 308.08 349.6" stroke="#000000" stroke-dashoffset="6.9"/>
<path d="M304.8 283.45 313.17 350.88" stroke="#7e2f8e" stroke-dashoffset="8.05"/>
</g>
<text x="353" y="274.1" text-anchor="middle" font-size="7.4" textLength="11.28" lengthAdjust="spacingAndGlyphs">F11</text>
<text x="323.96" y="375.5" text-anchor="middle" font-size="6.7">100</text>
<text x="343.32" y="375.5" text-anchor="middle" font-size="6.7">200</text>
<text x="362.68" y="375.5" text-anchor="middle" font-size="6.7">300</text>
<text x="382.04" y="375.5" text-anchor="middle" font-size="6.7">400</text>
<text x="401.4" y="375.5" text-anchor="middle" font-size="6.7">500</text>
<text x="353" y="384.6" text-anchor="middle" font-size="7.25" textLength="66" lengthAdjust="spacing">Number of Iterations</text>
<text transform="translate(284.8 321.45) rotate(-90)" x="0" y="0" text-anchor="middle" font-size="7.7" textLength="35.4" lengthAdjust="spacingAndGlyphs">Best Fitness</text>
<text x="302.6" y="290.9" text-anchor="end" font-size="6.7">10<tspan dy="-2.7" font-size="5.2">0</tspan></text>
<text x="302.6" y="330.55" text-anchor="end" font-size="6.7">10<tspan dy="-2.7" font-size="5.2">-10</tspan></text>
<text x="302.6" y="370.2" text-anchor="end" font-size="6.7">10<tspan dy="-2.7" font-size="5.2">-20</tspan></text>
<path d="M441.15 275.6V367.3M445 275.6V367.3M448.86 275.6V367.3M452.71 275.6V367.3M460.41 275.6V367.3M464.26 275.6V367.3M468.12 275.6V367.3M471.97 275.6V367.3M479.67 275.6V367.3M483.52 275.6V367.3M487.38 275.6V367.3M491.23 275.6V367.3M498.93 275.6V367.3M502.78 275.6V367.3M506.64 275.6V367.3M510.49 275.6V367.3M518.19 275.6V367.3M522.04 275.6V367.3M525.9 275.6V367.3M529.75 275.6V367.3" stroke="#f6f6f6" stroke-width="0.6" fill="none"/>
<path d="M437.3 278.9H533.6M437.3 282.2H533.6M437.3 285.5H533.6M437.3 288.8H533.6M437.3 292.1H533.6M437.3 295.4H533.6M437.3 298.7H533.6M437.3 302H533.6M437.3 305.3H533.6M437.3 308.6H533.6M437.3 311.9H533.6M437.3 315.2H533.6M437.3 318.5H533.6M437.3 321.8H533.6M437.3 325.1H533.6M437.3 328.4H533.6M437.3 331.7H533.6M437.3 335H533.6M437.3 338.3H533.6M437.3 341.6H533.6M437.3 344.9H533.6M437.3 348.2H533.6M437.3 351.5H533.6M437.3 354.8H533.6M437.3 358.1H533.6M437.3 361.4H533.6M437.3 364.7H533.6" stroke="#f6f6f6" stroke-width="0.6" fill="none"/>
<path d="M456.56 275.6V367.3M475.82 275.6V367.3M495.08 275.6V367.3M514.34 275.6V367.3M437.3 293.6H533.6M437.3 330.45H533.6" stroke="#e4e4e4" stroke-width="0.8" fill="none"/>
<rect x="437.3" y="275.6" width="96.3" height="91.7" fill="none" stroke="#8a8a8a" stroke-width="0.8"/>
<clipPath id="cF12"><rect x="436.3" y="274.6" width="98.3" height="93.7"/></clipPath>
<g clip-path="url(#cF12)" fill="none" stroke-width="1.3" stroke-dasharray="5.4,1.1,1.5,1.2" stroke-linejoin="round">
<path d="M437.5 294.9 454.53 352.15 533.6 352.15" stroke="#ff0000" stroke-dashoffset="0"/>
<path d="M437.5 290.57 460.89 290.57 462.16 292.35 533.6 292.35" stroke="#00ff00" stroke-dashoffset="1.15"/>
<path d="M437.5 296.17 453.26 352.15 533.6 352.15" stroke="#0000ff" stroke-dashoffset="2.3"/>
<path d="M437.5 275.81 439.26 293.62 443.08 299.98 454.53 299.98 460.89 302.53 533.6 306.85" stroke="#00ffff" stroke-dashoffset="3.45"/>
<path d="M437.5 294.9 533.6 308.38" stroke="#ff00ff" stroke-dashoffset="4.6"/>
<path d="M437.5 294.9 533.6 306.35" stroke="#ffff00" stroke-dashoffset="5.75"/>
<path d="M437.5 294.9 533.6 297.95" stroke="#000000" stroke-dashoffset="6.9"/>
<path d="M437.5 294.9 533.6 308.89" stroke="#7e2f8e" stroke-dashoffset="8.05"/>
</g>
<text x="485.45" y="274.1" text-anchor="middle" font-size="7.4" textLength="11.28" lengthAdjust="spacingAndGlyphs">F12</text>
<text x="456.56" y="375.5" text-anchor="middle" font-size="6.7">100</text>
<text x="475.82" y="375.5" text-anchor="middle" font-size="6.7">200</text>
<text x="495.08" y="375.5" text-anchor="middle" font-size="6.7">300</text>
<text x="514.34" y="375.5" text-anchor="middle" font-size="6.7">400</text>
<text x="533.6" y="375.5" text-anchor="middle" font-size="6.7">500</text>
<text x="485.45" y="384.6" text-anchor="middle" font-size="7.25" textLength="66" lengthAdjust="spacing">Number of Iterations</text>
<text transform="translate(416.8 321.45) rotate(-90)" x="0" y="0" text-anchor="middle" font-size="7.7" textLength="35.4" lengthAdjust="spacingAndGlyphs">Best Fitness</text>
<text x="435.3" y="296.5" text-anchor="end" font-size="6.7">10<tspan dy="-2.7" font-size="5.2">0</tspan></text>
<text x="435.3" y="333.35" text-anchor="end" font-size="6.7">10<tspan dy="-2.7" font-size="5.2">-20</tspan></text>
<text x="435.3" y="370.2" text-anchor="end" font-size="6.7">10<tspan dy="-2.7" font-size="5.2">-40</tspan></text>
<path d="M43.48 403.4V495M47.36 403.4V495M51.24 403.4V495M55.12 403.4V495M62.88 403.4V495M66.76 403.4V495M70.64 403.4V495M74.52 403.4V495M82.28 403.4V495M86.16 403.4V495M90.04 403.4V495M93.92 403.4V495M101.68 403.4V495M105.56 403.4V495M109.44 403.4V495M113.32 403.4V495M121.08 403.4V495M124.96 403.4V495M128.84 403.4V495M132.72 403.4V495" stroke="#f6f6f6" stroke-width="0.6" fill="none"/>
<path d="M39.6 406.7H136.6M39.6 410H136.6M39.6 413.3H136.6M39.6 416.6H136.6M39.6 419.9H136.6M39.6 423.2H136.6M39.6 426.5H136.6M39.6 429.8H136.6M39.6 433.1H136.6M39.6 436.4H136.6M39.6 439.7H136.6M39.6 443H136.6M39.6 446.3H136.6M39.6 449.6H136.6M39.6 452.9H136.6M39.6 456.2H136.6M39.6 459.5H136.6M39.6 462.8H136.6M39.6 466.1H136.6M39.6 469.4H136.6M39.6 472.7H136.6M39.6 476H136.6M39.6 479.3H136.6M39.6 482.6H136.6M39.6 485.9H136.6M39.6 489.2H136.6M39.6 492.5H136.6" stroke="#f6f6f6" stroke-width="0.6" fill="none"/>
<path d="M59 403.4V495M78.4 403.4V495M97.8 403.4V495M117.2 403.4V495M39.6 421H136.6M39.6 458H136.6" stroke="#e4e4e4" stroke-width="0.8" fill="none"/>
<rect x="39.6" y="403.4" width="97" height="91.6" fill="none" stroke="#8a8a8a" stroke-width="0.8"/>
<clipPath id="cF13"><rect x="38.6" y="402.4" width="99" height="93.6"/></clipPath>
<g clip-path="url(#cF13)" fill="none" stroke-width="1.3" stroke-dasharray="5.4,1.1,1.5,1.2" stroke-linejoin="round">
<path d="M39.8 423.97 44.49 425.83 59.34 479.63 136.33 479.63" stroke="#ff0000" stroke-dashoffset="0"/>
<path d="M39.8 418.41 50.99 421.19 55.63 430.47 93.66 430.47 112.21 431.4 115.92 435.11 136.33 475.92" stroke="#00ff00" stroke-dashoffset="1.15"/>
<path d="M39.8 419.89 99.22 419.89 102.01 423.05 114.07 479.63 136.33 479.63" stroke="#0000ff" stroke-dashoffset="2.3"/>
<path d="M39.8 409.13 40.78 418.41 56.55 423.97 95.51 429.54 97.37 434.18 136.33 435.11" stroke="#00ffff" stroke-dashoffset="3.45"/>
<path d="M39.8 403.57 39.86 418.41 56.55 421.19 136.33 432.32" stroke="#ff00ff" stroke-dashoffset="4.6"/>
<path d="M39.8 419.34 93.66 425.83 136.33 431.4" stroke="#ffff00" stroke-dashoffset="5.75"/>
<path d="M39.8 423.97 40.23 435.11 78.82 436.03 79.74 440.3 136.33 440.3" stroke="#000000" stroke-dashoffset="6.9"/>
<path d="M39.8 420.26 60.26 423.05 75.11 428.61 136.33 436.03" stroke="#7e2f8e" stroke-dashoffset="8.05"/>
</g>
<text x="88.1" y="401.9" text-anchor="middle" font-size="7.4" textLength="11.28" lengthAdjust="spacingAndGlyphs">F13</text>
<text x="59" y="503.2" text-anchor="middle" font-size="6.7">100</text>
<text x="78.4" y="503.2" text-anchor="middle" font-size="6.7">200</text>
<text x="97.8" y="503.2" text-anchor="middle" font-size="6.7">300</text>
<text x="117.2" y="503.2" text-anchor="middle" font-size="6.7">400</text>
<text x="136.6" y="503.2" text-anchor="middle" font-size="6.7">500</text>
<text x="88.1" y="512.3" text-anchor="middle" font-size="7.25" textLength="66" lengthAdjust="spacing">Number of Iterations</text>
<text transform="translate(19.5 449.2) rotate(-90)" x="0" y="0" text-anchor="middle" font-size="7.7" textLength="35.4" lengthAdjust="spacingAndGlyphs">Best Fitness</text>
<text x="37.6" y="423.9" text-anchor="end" font-size="6.7">10<tspan dy="-2.7" font-size="5.2">0</tspan></text>
<text x="37.6" y="460.9" text-anchor="end" font-size="6.7">10<tspan dy="-2.7" font-size="5.2">-20</tspan></text>
<text x="37.6" y="497.9" text-anchor="end" font-size="6.7">10<tspan dy="-2.7" font-size="5.2">-40</tspan></text>
<path d="M175.99 403.4V495M179.88 403.4V495M183.78 403.4V495M187.67 403.4V495M195.45 403.4V495M199.34 403.4V495M203.24 403.4V495M207.13 403.4V495M214.91 403.4V495M218.8 403.4V495M222.7 403.4V495M226.59 403.4V495M234.37 403.4V495M238.26 403.4V495M242.16 403.4V495M246.05 403.4V495M253.83 403.4V495M257.72 403.4V495M261.62 403.4V495M265.51 403.4V495" stroke="#f6f6f6" stroke-width="0.6" fill="none"/>
<path d="M172.1 443.35H269.4M172.1 436.36H269.4M172.1 431.4H269.4M172.1 427.55H269.4M172.1 424.41H269.4M172.1 421.75H269.4M172.1 419.45H269.4M172.1 417.42H269.4M172.1 483.05H269.4M172.1 476.06H269.4M172.1 471.1H269.4M172.1 467.25H269.4M172.1 464.11H269.4M172.1 461.45H269.4M172.1 459.15H269.4M172.1 457.12H269.4" stroke="#eeeeee" stroke-width="0.6" fill="none"/>
<path d="M191.56 403.4V495M211.02 403.4V495M230.48 403.4V495M249.94 403.4V495M172.1 415.6H269.4M172.1 455.3H269.4" stroke="#e4e4e4" stroke-width="0.8" fill="none"/>
<rect x="172.1" y="403.4" width="97.3" height="91.6" fill="none" stroke="#8a8a8a" stroke-width="0.8"/>
<clipPath id="cF14"><rect x="171.1" y="402.4" width="99.3" height="93.6"/></clipPath>
<g clip-path="url(#cF14)" fill="none" stroke-width="1.3" stroke-dasharray="5.4,1.1,1.5,1.2" stroke-linejoin="round">
<path d="M172.3 454.89 174.35 494.33" stroke="#ff0000" stroke-dashoffset="0"/>
<path d="M172.3 451.07 175.62 463.79 195.98 463.79 196.49 494.33 269.01 494.33" stroke="#00ff00" stroke-dashoffset="1.15"/>
<path d="M172.3 475.24 225.24 476.01 226.51 494.33 269.01 494.33" stroke="#0000ff" stroke-dashoffset="2.3"/>
<path d="M172.3 461.25 175.62 494.33" stroke="#00ffff" stroke-dashoffset="3.45"/>
<path d="M172.3 403.4 172.57 440.89 175.62 452.34 178.17 453.61 178.68 494.33 269.01 494.33" stroke="#ff00ff" stroke-dashoffset="4.6"/>
<path d="M172.3 453.61 178.17 456.16 180.71 473.97 188.35 476.51 190.89 494.33" stroke="#ffff00" stroke-dashoffset="5.75"/>
<path d="M172.3 452.34 180.71 452.34 181.98 463.79 184.53 463.79 185.29 494.33" stroke="#000000" stroke-dashoffset="6.9"/>
<path d="M178.17 453.61 179.44 494.33 269.01 494.33" stroke="#7e2f8e" stroke-dashoffset="8.05"/>
</g>
<text x="220.75" y="401.9" text-anchor="middle" font-size="7.4" textLength="11.28" lengthAdjust="spacingAndGlyphs">F14</text>
<text x="191.56" y="503.2" text-anchor="middle" font-size="6.7">100</text>
<text x="211.02" y="503.2" text-anchor="middle" font-size="6.7">200</text>
<text x="230.48" y="503.2" text-anchor="middle" font-size="6.7">300</text>
<text x="249.94" y="503.2" text-anchor="middle" font-size="6.7">400</text>
<text x="269.4" y="503.2" text-anchor="middle" font-size="6.7">500</text>
<text x="220.75" y="512.3" text-anchor="middle" font-size="7.25" textLength="66" lengthAdjust="spacing">Number of Iterations</text>
<text transform="translate(157 449.2) rotate(-90)" x="0" y="0" text-anchor="middle" font-size="7.7" textLength="35.4" lengthAdjust="spacingAndGlyphs">Best Fitness</text>
<text x="170.1" y="418.5" text-anchor="end" font-size="6.7">10<tspan dy="-2.7" font-size="5.2">2</tspan></text>
<text x="170.1" y="458.2" text-anchor="end" font-size="6.7">10<tspan dy="-2.7" font-size="5.2">1</tspan></text>
<text x="170.1" y="497.9" text-anchor="end" font-size="6.7">10<tspan dy="-2.7" font-size="5.2">0</tspan></text>
<path d="M308.28 403.4V495M312.16 403.4V495M316.04 403.4V495M319.92 403.4V495M327.68 403.4V495M331.56 403.4V495M335.44 403.4V495M339.32 403.4V495M347.08 403.4V495M350.96 403.4V495M354.84 403.4V495M358.72 403.4V495M366.48 403.4V495M370.36 403.4V495M374.24 403.4V495M378.12 403.4V495M385.88 403.4V495M389.76 403.4V495M393.64 403.4V495M397.52 403.4V495" stroke="#f6f6f6" stroke-width="0.6" fill="none"/>
<path d="M304.4 419.41H401.4M304.4 415.37H401.4M304.4 412.51H401.4M304.4 410.29H401.4M304.4 408.48H401.4M304.4 406.95H401.4M304.4 405.62H401.4M304.4 404.45H401.4M304.4 442.31H401.4M304.4 438.27H401.4M304.4 435.41H401.4M304.4 433.19H401.4M304.4 431.38H401.4M304.4 429.85H401.4M304.4 428.52H401.4M304.4 427.35H401.4M304.4 465.21H401.4M304.4 461.17H401.4M304.4 458.31H401.4M304.4 456.09H401.4M304.4 454.28H401.4M304.4 452.75H401.4M304.4 451.42H401.4M304.4 450.25H401.4M304.4 488.11H401.4M304.4 484.07H401.4M304.4 481.21H401.4M304.4 478.99H401.4M304.4 477.18H401.4M304.4 475.65H401.4M304.4 474.32H401.4M304.4 473.15H401.4" stroke="#e6e6e6" stroke-width="0.6" fill="none"/>
<path d="M323.8 403.4V495M343.2 403.4V495M362.6 403.4V495M382 403.4V495M304.4 426.3H401.4M304.4 449.2H401.4M304.4 472.1H401.4" stroke="#e4e4e4" stroke-width="0.8" fill="none"/>
<rect x="304.4" y="403.4" width="97" height="91.6" fill="none" stroke="#8a8a8a" stroke-width="0.8"/>
<clipPath id="cF15"><rect x="303.4" y="402.4" width="99" height="93.6"/></clipPath>
<g clip-path="url(#cF15)" fill="none" stroke-width="1.3" stroke-dasharray="5.4,1.1,1.5,1.2" stroke-linejoin="round">
<path d="M304.6 471.42 306.81 483.64" stroke="#ff0000" stroke-dashoffset="0"/>
<path d="M304.6 466.34 306.81 473.97 318.26 473.97 320.8 476.01 401.4 476.01" stroke="#00ff00" stroke-dashoffset="1.15"/>
<path d="M304.6 468.88 306.81 483.64" stroke="#0000ff" stroke-dashoffset="2.3"/>
<path d="M304.6 440.89 306.81 481.6 310.62 483.64" stroke="#00ffff" stroke-dashoffset="3.45"/>
<path d="M304.6 433.26 306.81 471.42 315.71 476.51 325.89 483.64" stroke="#ff00ff" stroke-dashoffset="4.6"/>
<path d="M304.6 412.9 306.81 466.34 320.8 479.06 328.44 483.64" stroke="#ffff00" stroke-dashoffset="5.75"/>
<path d="M304.6 476.51 305.53 483.64 401.4 483.64" stroke="#000000" stroke-dashoffset="6.9"/>
<path d="M304.6 473.97 310.62 479.06 325.89 483.64 401.4 483.64" stroke="#7e2f8e" stroke-dashoffset="8.05"/>
</g>
<text x="352.9" y="401.9" text-anchor="middle" font-size="7.4" textLength="11.28" lengthAdjust="spacingAndGlyphs">F15</text>
<text x="323.8" y="503.2" text-anchor="middle" font-size="6.7">100</text>
<text x="343.2" y="503.2" text-anchor="middle" font-size="6.7">200</text>
<text x="362.6" y="503.2" text-anchor="middle" font-size="6.7">300</text>
<text x="382" y="503.2" text-anchor="middle" font-size="6.7">400</text>
<text x="401.4" y="503.2" text-anchor="middle" font-size="6.7">500</text>
<text x="352.9" y="512.3" text-anchor="middle" font-size="7.25" textLength="66" lengthAdjust="spacing">Number of Iterations</text>
<text transform="translate(287.9 449.2) rotate(-90)" x="0" y="0" text-anchor="middle" font-size="7.7" textLength="35.4" lengthAdjust="spacingAndGlyphs">Best Fitness</text>
<text x="302.4" y="406.3" text-anchor="end" font-size="6.7">10<tspan dy="-2.7" font-size="5.2">0</tspan></text>
<text x="302.4" y="429.2" text-anchor="end" font-size="6.7">10<tspan dy="-2.7" font-size="5.2">-1</tspan></text>
<text x="302.4" y="452.1" text-anchor="end" font-size="6.7">10<tspan dy="-2.7" font-size="5.2">-2</tspan></text>
<text x="302.4" y="475" text-anchor="end" font-size="6.7">10<tspan dy="-2.7" font-size="5.2">-3</tspan></text>
<text x="302.4" y="497.9" text-anchor="end" font-size="6.7">10<tspan dy="-2.7" font-size="5.2">-4</tspan></text>
<path d="M441.06 403.4V495M444.91 403.4V495M448.77 403.4V495M452.62 403.4V495M460.34 403.4V495M464.19 403.4V495M468.05 403.4V495M471.9 403.4V495M479.62 403.4V495M483.47 403.4V495M487.33 403.4V495M491.18 403.4V495M498.9 403.4V495M502.75 403.4V495M506.61 403.4V495M510.46 403.4V495M518.18 403.4V495M522.03 403.4V495M525.89 403.4V495M529.74 403.4V495" stroke="#f6f6f6" stroke-width="0.6" fill="none"/>
<path d="M437.2 406.02H533.6M437.2 408.63H533.6M437.2 411.25H533.6M437.2 413.87H533.6M437.2 419.1H533.6M437.2 421.72H533.6M437.2 424.34H533.6M437.2 426.95H533.6M437.2 432.19H533.6M437.2 434.81H533.6M437.2 437.42H533.6M437.2 440.04H533.6M437.2 445.28H533.6M437.2 447.89H533.6M437.2 450.51H533.6M437.2 453.13H533.6M437.2 458.36H533.6M437.2 460.98H533.6M437.2 463.6H533.6M437.2 466.21H533.6M437.2 471.45H533.6M437.2 474.06H533.6M437.2 476.68H533.6M437.2 479.3H533.6M437.2 484.53H533.6M437.2 487.15H533.6M437.2 489.77H533.6M437.2 492.38H533.6" stroke="#f6f6f6" stroke-width="0.6" fill="none"/>
<path d="M456.48 403.4V495M475.76 403.4V495M495.04 403.4V495M514.32 403.4V495M437.2 416.49H533.6M437.2 429.57H533.6M437.2 442.66H533.6M437.2 455.74H533.6M437.2 468.83H533.6M437.2 481.92H533.6" stroke="#e4e4e4" stroke-width="0.8" fill="none"/>
<rect x="437.2" y="403.4" width="96.4" height="91.6" fill="none" stroke="#8a8a8a" stroke-width="0.8"/>
<clipPath id="cF16"><rect x="436.2" y="402.4" width="98.4" height="93.6"/></clipPath>
<g clip-path="url(#cF16)" fill="none" stroke-width="1.3" stroke-dasharray="5.4,1.1,1.5,1.2" stroke-linejoin="round">
<path d="M437.4 473.97 438.5 481.6 441.81 486.18" stroke="#ff0000" stroke-dashoffset="0"/>
<path d="M440.03 403.4 440.03 485.42 458.35 485.42" stroke="#00ff00" stroke-dashoffset="1.15"/>
<path d="M437.4 466.34 437.48 486.18" stroke="#0000ff" stroke-dashoffset="2.3"/>
<path d="M437.48 435.8 437.48 486.18" stroke="#ff00ff" stroke-dashoffset="4.6"/>
<path d="M437.4 486.18 533.6 486.18" stroke="#000000" stroke-dashoffset="6.9"/>
<path d="M437.4 481.6 437.48 486.18 533.6 486.18" stroke="#7e2f8e" stroke-dashoffset="8.05"/>
</g>
<text x="485.4" y="401.9" text-anchor="middle" font-size="7.4" textLength="11.28" lengthAdjust="spacingAndGlyphs">F16</text>
<text x="456.48" y="503.2" text-anchor="middle" font-size="6.7">100</text>
<text x="475.76" y="503.2" text-anchor="middle" font-size="6.7">200</text>
<text x="495.04" y="503.2" text-anchor="middle" font-size="6.7">300</text>
<text x="514.32" y="503.2" text-anchor="middle" font-size="6.7">400</text>
<text x="533.6" y="503.2" text-anchor="middle" font-size="6.7">500</text>
<text x="485.4" y="512.3" text-anchor="middle" font-size="7.25" textLength="66" lengthAdjust="spacing">Number of Iterations</text>
<text transform="translate(413.5 449.2) rotate(-90)" x="0" y="0" text-anchor="middle" font-size="7.7" textLength="35.4" lengthAdjust="spacingAndGlyphs">Best Fitness</text>
<text x="435.2" y="405.6" text-anchor="end" font-size="6.7">-1</text>
<text x="435.2" y="418.69" text-anchor="end" font-size="6.7">-1.005</text>
<text x="435.2" y="431.77" text-anchor="end" font-size="6.7">-1.01</text>
<text x="435.2" y="444.86" text-anchor="end" font-size="6.7">-1.015</text>
<text x="435.2" y="457.94" text-anchor="end" font-size="6.7">-1.02</text>
<text x="435.2" y="471.03" text-anchor="end" font-size="6.7">-1.025</text>
<text x="435.2" y="484.12" text-anchor="end" font-size="6.7">-1.03</text>
<text x="435.2" y="497.2" text-anchor="end" font-size="6.7">-1.035</text>
<path d="M38.6 523.3V615.8M42.6 523.3V615.8M46.6 523.3V615.8M50.6 523.3V615.8M58.6 523.3V615.8M62.6 523.3V615.8M66.6 523.3V615.8M70.6 523.3V615.8M78.6 523.3V615.8M82.6 523.3V615.8M86.6 523.3V615.8M90.6 523.3V615.8M98.6 523.3V615.8M102.6 523.3V615.8M106.6 523.3V615.8M110.6 523.3V615.8M118.6 523.3V615.8M122.6 523.3V615.8M126.6 523.3V615.8M130.6 523.3V615.8" stroke="#f6f6f6" stroke-width="0.6" fill="none"/>
<path d="M34.6 529.81H134.6M34.6 533.77H134.6M34.6 537.72H134.6M34.6 541.68H134.6M34.6 545.63H134.6M34.6 549.59H134.6M34.6 553.55H134.6M34.6 557.5H134.6M34.6 561.46H134.6M34.6 565.41H134.6M34.6 569.37H134.6M34.6 573.33H134.6M34.6 577.28H134.6M34.6 581.24H134.6M34.6 585.2H134.6M34.6 589.15H134.6M34.6 593.11H134.6M34.6 597.06H134.6M34.6 601.02H134.6M34.6 608.93H134.6M34.6 612.89H134.6" stroke="#f6f6f6" stroke-width="0.6" fill="none"/>
<path d="M54.6 523.3V615.8M74.6 523.3V615.8M94.6 523.3V615.8M114.6 523.3V615.8M34.6 525.85H134.6M34.6 536.82H134.6M34.6 550.97H134.6M34.6 570.9H134.6M34.6 604.98H134.6" stroke="#e4e4e4" stroke-width="0.8" fill="none"/>
<rect x="34.6" y="523.3" width="100" height="92.5" fill="none" stroke="#8a8a8a" stroke-width="0.8"/>
<clipPath id="cF17"><rect x="33.6" y="522.3" width="102" height="94.5"/></clipPath>
<g clip-path="url(#cF17)" fill="none" stroke-width="1.3" stroke-dasharray="5.4,1.1,1.5,1.2" stroke-linejoin="round">
<path d="M34.8 611.87 38.17 614.92 134.35 615.6" stroke="#ff0000" stroke-dashoffset="0"/>
<path d="M34.8 606.78 35.62 609.33 38.17 613.14 40.71 615.6" stroke="#00ff00" stroke-dashoffset="1.15"/>
<path d="M34.8 523.32 34.8 614.41 36.9 615.6 134.35 615.6" stroke="#ff00ff" stroke-dashoffset="4.6"/>
<path d="M34.8 615.6 134.35 615.6" stroke="#000000" stroke-dashoffset="6.9"/>
<path d="M34.8 615.6 134.35 615.6" stroke="#7e2f8e" stroke-dashoffset="8.05"/>
</g>
<text x="84.6" y="521.8" text-anchor="middle" font-size="7.4" textLength="11.28" lengthAdjust="spacingAndGlyphs">F17</text>
<text x="54.6" y="624" text-anchor="middle" font-size="6.7">100</text>
<text x="74.6" y="624" text-anchor="middle" font-size="6.7">200</text>
<text x="94.6" y="624" text-anchor="middle" font-size="6.7">300</text>
<text x="114.6" y="624" text-anchor="middle" font-size="6.7">400</text>
<text x="134.6" y="624" text-anchor="middle" font-size="6.7">500</text>
<text x="84.6" y="633.1" text-anchor="middle" font-size="7.25" textLength="66" lengthAdjust="spacing">Number of Iterations</text>
<text transform="translate(20.5 569.55) rotate(-90)" x="0" y="0" text-anchor="middle" font-size="7.7" textLength="35.4" lengthAdjust="spacingAndGlyphs">Best Fitness</text>
<text x="32.6" y="528.05" text-anchor="end" font-size="6.7">2.5</text>
<text x="32.6" y="539.02" text-anchor="end" font-size="6.7">2</text>
<text x="32.6" y="553.17" text-anchor="end" font-size="6.7">1.5</text>
<text x="32.6" y="573.1" text-anchor="end" font-size="6.7">1</text>
<text x="32.6" y="607.18" text-anchor="end" font-size="6.7">0.5</text>
<path d="M170.61 523.3V615.8M174.62 523.3V615.8M178.64 523.3V615.8M182.65 523.3V615.8M190.67 523.3V615.8M194.68 523.3V615.8M198.7 523.3V615.8M202.71 523.3V615.8M210.73 523.3V615.8M214.74 523.3V615.8M218.76 523.3V615.8M222.77 523.3V615.8M230.79 523.3V615.8M234.8 523.3V615.8M238.82 523.3V615.8M242.83 523.3V615.8M250.85 523.3V615.8M254.86 523.3V615.8M258.88 523.3V615.8M262.89 523.3V615.8" stroke="#f6f6f6" stroke-width="0.6" fill="none"/>
<path d="M166.6 555.66H266.9M166.6 547.51H266.9M166.6 541.72H266.9M166.6 537.24H266.9M166.6 533.57H266.9M166.6 530.47H266.9M166.6 527.79H266.9M166.6 525.42H266.9M166.6 601.96H266.9M166.6 593.81H266.9M166.6 588.02H266.9M166.6 583.54H266.9M166.6 579.87H266.9M166.6 576.77H266.9M166.6 574.09H266.9M166.6 571.72H266.9" stroke="#eeeeee" stroke-width="0.6" fill="none"/>
<path d="M186.66 523.3V615.8M206.72 523.3V615.8M226.78 523.3V615.8M246.84 523.3V615.8M166.6 569.6H266.9" stroke="#e4e4e4" stroke-width="0.8" fill="none"/>
<rect x="166.6" y="523.3" width="100.3" height="92.5" fill="none" stroke="#8a8a8a" stroke-width="0.8"/>
<clipPath id="cF18"><rect x="165.6" y="522.3" width="102.3" height="94.5"/></clipPath>
<g clip-path="url(#cF18)" fill="none" stroke-width="1.3" stroke-dasharray="5.4,1.1,1.5,1.2" stroke-linejoin="round">
<path d="M166.8 594.06 172.57 594.06 172.57 602.96 181.98 604.24 185.8 608.05 190.89 608.82 192.16 613.91 194.71 614.92" stroke="#00ff00" stroke-dashoffset="1.15"/>
<path d="M166.8 523.32 166.8 615.6 266.46 615.6" stroke="#ff00ff" stroke-dashoffset="4.6"/>
<path d="M167.48 555.89 167.48 615.6" stroke="#ffff00" stroke-dashoffset="5.75"/>
<path d="M167.23 550.8 167.23 615.6" stroke="#000000" stroke-dashoffset="6.9"/>
<path d="M166.8 615.6 266.46 615.6" stroke="#7e2f8e" stroke-dashoffset="8.05"/>
</g>
<text x="216.75" y="521.8" text-anchor="middle" font-size="7.4" textLength="11.28" lengthAdjust="spacingAndGlyphs">F18</text>
<text x="186.66" y="624" text-anchor="middle" font-size="6.7">100</text>
<text x="206.72" y="624" text-anchor="middle" font-size="6.7">200</text>
<text x="226.78" y="624" text-anchor="middle" font-size="6.7">300</text>
<text x="246.84" y="624" text-anchor="middle" font-size="6.7">400</text>
<text x="266.9" y="624" text-anchor="middle" font-size="6.7">500</text>
<text x="216.75" y="633.1" text-anchor="middle" font-size="7.25" textLength="66" lengthAdjust="spacing">Number of Iterations</text>
<text transform="translate(151.9 569.55) rotate(-90)" x="0" y="0" text-anchor="middle" font-size="7.7" textLength="35.4" lengthAdjust="spacingAndGlyphs">Best Fitness</text>
<text x="164.6" y="526.2" text-anchor="end" font-size="6.7">10<tspan dy="-2.7" font-size="5.2">2</tspan></text>
<text x="164.6" y="572.5" text-anchor="end" font-size="6.7">10<tspan dy="-2.7" font-size="5.2">1</tspan></text>
<path d="M302.82 523.3V615.8M306.85 523.3V615.8M310.87 523.3V615.8M314.9 523.3V615.8M322.94 523.3V615.8M326.97 523.3V615.8M330.99 523.3V615.8M335.02 523.3V615.8M343.06 523.3V615.8M347.09 523.3V615.8M351.11 523.3V615.8M355.14 523.3V615.8M363.18 523.3V615.8M367.21 523.3V615.8M371.23 523.3V615.8M375.26 523.3V615.8M383.3 523.3V615.8M387.33 523.3V615.8M391.35 523.3V615.8M395.38 523.3V615.8" stroke="#f6f6f6" stroke-width="0.6" fill="none"/>
<path d="M298.8 525.19H399.4M298.8 529.09H399.4M298.8 536.91H399.4M298.8 540.81H399.4M298.8 544.72H399.4M298.8 548.63H399.4M298.8 552.53H399.4M298.8 556.44H399.4M298.8 560.34H399.4M298.8 564.25H399.4M298.8 568.16H399.4M298.8 572.06H399.4M298.8 575.97H399.4M298.8 579.88H399.4M298.8 583.78H399.4M298.8 587.69H399.4M298.8 591.59H399.4M298.8 595.5H399.4M298.8 599.41H399.4M298.8 603.31H399.4M298.8 607.22H399.4M298.8 615.03H399.4" stroke="#f6f6f6" stroke-width="0.6" fill="none"/>
<path d="M318.92 523.3V615.8M339.04 523.3V615.8M359.16 523.3V615.8M379.28 523.3V615.8M298.8 533H399.4M298.8 554.33H399.4M298.8 574.37H399.4M298.8 593.26H399.4M298.8 611.13H399.4" stroke="#e4e4e4" stroke-width="0.8" fill="none"/>
<rect x="298.8" y="523.3" width="100.6" height="92.5" fill="none" stroke="#8a8a8a" stroke-width="0.8"/>
<clipPath id="cF19"><rect x="297.8" y="522.3" width="102.6" height="94.5"/></clipPath>
<g clip-path="url(#cF19)" fill="none" stroke-width="1.3" stroke-dasharray="5.4,1.1,1.5,1.2" stroke-linejoin="round">
<path d="M299.17 613.14 399.4 613.14" stroke="#00ff00" stroke-dashoffset="1.15"/>
<path d="M299 615.6 399.4 615.6" stroke="#0000ff" stroke-dashoffset="2.3"/>
<path d="M299 523.32 299 543.17" stroke="#00ffff" stroke-dashoffset="3.45"/>
<path d="M299 540.62 299 563.52" stroke="#ffff00" stroke-dashoffset="5.75"/>
<path d="M299.17 566.07 300.45 606.78 302.99 614.41" stroke="#000000" stroke-dashoffset="6.9"/>
<path d="M299 615.6 399.4 615.6" stroke="#7e2f8e" stroke-dashoffset="8.05"/>
</g>
<text x="349.1" y="521.8" text-anchor="middle" font-size="7.4" textLength="11.28" lengthAdjust="spacingAndGlyphs">F19</text>
<text x="318.92" y="624" text-anchor="middle" font-size="6.7">100</text>
<text x="339.04" y="624" text-anchor="middle" font-size="6.7">200</text>
<text x="359.16" y="624" text-anchor="middle" font-size="6.7">300</text>
<text x="379.28" y="624" text-anchor="middle" font-size="6.7">400</text>
<text x="399.4" y="624" text-anchor="middle" font-size="6.7">500</text>
<text x="349.1" y="633.1" text-anchor="middle" font-size="7.25" textLength="66" lengthAdjust="spacing">Number of Iterations</text>
<text transform="translate(281.8 569.55) rotate(-90)" x="0" y="0" text-anchor="middle" font-size="7.7" textLength="35.4" lengthAdjust="spacingAndGlyphs">Best Fitness</text>
<text x="296.8" y="535.2" text-anchor="end" font-size="6.7">-3</text>
<text x="296.8" y="556.53" text-anchor="end" font-size="6.7">-3.2</text>
<text x="296.8" y="576.57" text-anchor="end" font-size="6.7">-3.4</text>
<text x="296.8" y="595.46" text-anchor="end" font-size="6.7">-3.6</text>
<text x="296.8" y="613.33" text-anchor="end" font-size="6.7">-3.8</text>
<path d="M435.3 523.3V615.8M439.31 523.3V615.8M443.31 523.3V615.8M447.32 523.3V615.8M455.32 523.3V615.8M459.33 523.3V615.8M463.33 523.3V615.8M467.34 523.3V615.8M475.34 523.3V615.8M479.35 523.3V615.8M483.35 523.3V615.8M487.36 523.3V615.8M495.36 523.3V615.8M499.37 523.3V615.8M503.37 523.3V615.8M507.38 523.3V615.8M515.38 523.3V615.8M519.39 523.3V615.8M523.39 523.3V615.8M527.4 523.3V615.8" stroke="#f6f6f6" stroke-width="0.6" fill="none"/>
<path d="M431.3 525.01H531.4M431.3 527.35H531.4M431.3 532.05H531.4M431.3 534.39H531.4M431.3 536.74H531.4M431.3 539.09H531.4M431.3 541.44H531.4M431.3 543.78H531.4M431.3 546.13H531.4M431.3 548.48H531.4M431.3 550.83H531.4M431.3 553.17H531.4M431.3 555.52H531.4M431.3 560.22H531.4M431.3 562.56H531.4M431.3 564.91H531.4M431.3 567.26H531.4M431.3 569.61H531.4M431.3 571.95H531.4M431.3 574.3H531.4M431.3 576.65H531.4M431.3 579H531.4M431.3 581.34H531.4M431.3 583.69H531.4M431.3 586.04H531.4M431.3 588.39H531.4M431.3 590.73H531.4M431.3 595.43H531.4M431.3 597.78H531.4M431.3 600.12H531.4M431.3 604.82H531.4M431.3 607.16H531.4M431.3 609.51H531.4M431.3 614.21H531.4" stroke="#f6f6f6" stroke-width="0.6" fill="none"/>
<path d="M451.32 523.3V615.8M471.34 523.3V615.8M491.36 523.3V615.8M511.38 523.3V615.8M431.3 529.7H531.4M431.3 544.75H531.4M431.3 558.35H531.4M431.3 570.78H531.4M431.3 582.21H531.4M431.3 592.79H531.4M431.3 602.64H531.4M431.3 611.86H531.4" stroke="#e4e4e4" stroke-width="0.8" fill="none"/>
<rect x="431.3" y="523.3" width="100.1" height="92.5" fill="none" stroke="#8a8a8a" stroke-width="0.8"/>
<clipPath id="cF20"><rect x="430.3" y="522.3" width="102.1" height="94.5"/></clipPath>
<g clip-path="url(#cF20)" fill="none" stroke-width="1.3" stroke-dasharray="5.4,1.1,1.5,1.2" stroke-linejoin="round">
<path d="M432.39 606.78 432.9 609.83 531.37 609.83" stroke="#00ff00" stroke-dashoffset="1.15"/>
<path d="M431.63 523.32 431.63 601.69 432.9 610.6 435.45 614.92 439.26 615.6" stroke="#00ffff" stroke-dashoffset="3.45"/>
<path d="M431.63 601.69 432.39 611.87 435.45 615.6" stroke="#ff00ff" stroke-dashoffset="4.6"/>
<path d="M431.63 609.33 433.41 614.92 436.72 615.6" stroke="#ffff00" stroke-dashoffset="5.75"/>
<path d="M431.5 530.45 431.5 611.87 432.9 615.6" stroke="#000000" stroke-dashoffset="6.9"/>
<path d="M431.63 615.6 531.37 615.6" stroke="#7e2f8e" stroke-dashoffset="8.05"/>
</g>
<text x="481.35" y="521.8" text-anchor="middle" font-size="7.4" textLength="11.28" lengthAdjust="spacingAndGlyphs">F20</text>
<text x="451.32" y="624" text-anchor="middle" font-size="6.7">100</text>
<text x="471.34" y="624" text-anchor="middle" font-size="6.7">200</text>
<text x="491.36" y="624" text-anchor="middle" font-size="6.7">300</text>
<text x="511.38" y="624" text-anchor="middle" font-size="6.7">400</text>
<text x="531.4" y="624" text-anchor="middle" font-size="6.7">500</text>
<text x="481.35" y="633.1" text-anchor="middle" font-size="7.25" textLength="66" lengthAdjust="spacing">Number of Iterations</text>
<text transform="translate(414.2 569.55) rotate(-90)" x="0" y="0" text-anchor="middle" font-size="7.7" textLength="35.4" lengthAdjust="spacingAndGlyphs">Best Fitness</text>
<text x="429.3" y="531.9" text-anchor="end" font-size="6.7">-1.8</text>
<text x="429.3" y="546.95" text-anchor="end" font-size="6.7">-2</text>
<text x="429.3" y="560.55" text-anchor="end" font-size="6.7">-2.2</text>
<text x="429.3" y="572.98" text-anchor="end" font-size="6.7">-2.4</text>
<text x="429.3" y="584.41" text-anchor="end" font-size="6.7">-2.6</text>
<text x="429.3" y="594.99" text-anchor="end" font-size="6.7">-2.8</text>
<text x="429.3" y="604.84" text-anchor="end" font-size="6.7">-3</text>
<text x="429.3" y="614.06" text-anchor="end" font-size="6.7">-3.2</text>
<path d="M38.3 651.9V744.2M42.31 651.9V744.2M46.31 651.9V744.2M50.32 651.9V744.2M58.32 651.9V744.2M62.33 651.9V744.2M66.33 651.9V744.2M70.34 651.9V744.2M78.34 651.9V744.2M82.35 651.9V744.2M86.35 651.9V744.2M90.36 651.9V744.2M98.36 651.9V744.2M102.37 651.9V744.2M106.37 651.9V744.2M110.38 651.9V744.2M118.38 651.9V744.2M122.39 651.9V744.2M126.39 651.9V744.2M130.4 651.9V744.2" stroke="#f6f6f6" stroke-width="0.6" fill="none"/>
<path d="M34.3 661.17H134.4M34.3 666.6H134.4M34.3 670.44H134.4M34.3 673.43H134.4M34.3 675.87H134.4M34.3 677.93H134.4M34.3 679.72H134.4M34.3 681.29H134.4M34.3 691.97H134.4M34.3 697.4H134.4M34.3 701.24H134.4M34.3 704.23H134.4M34.3 706.67H134.4M34.3 708.73H134.4M34.3 710.52H134.4M34.3 712.09H134.4M34.3 722.77H134.4M34.3 728.2H134.4M34.3 732.04H134.4M34.3 735.03H134.4M34.3 737.47H134.4M34.3 739.53H134.4M34.3 741.32H134.4M34.3 742.89H134.4" stroke="#eeeeee" stroke-width="0.6" fill="none"/>
<path d="M54.32 651.9V744.2M74.34 651.9V744.2M94.36 651.9V744.2M114.38 651.9V744.2M34.3 682.7H134.4M34.3 713.4H134.4" stroke="#e4e4e4" stroke-width="0.8" fill="none"/>
<rect x="34.3" y="651.9" width="100.1" height="92.3" fill="none" stroke="#8a8a8a" stroke-width="0.8"/>
<clipPath id="cF21"><rect x="33.3" y="650.9" width="102.1" height="94.3"/></clipPath>
<g clip-path="url(#cF21)" fill="none" stroke-width="1.3" stroke-dasharray="5.4,1.1,1.5,1.2" stroke-linejoin="round">
<path d="M34.5 713.37 134.35 713.37" stroke="#ff0000" stroke-dashoffset="0"/>
<path d="M38.17 704.21 134.35 704.21" stroke="#00ff00" stroke-dashoffset="1.15"/>
<path d="M38.17 703.7 134.35 703.7" stroke="#0000ff" stroke-dashoffset="2.3"/>
<path d="M34.5 666.81 38.17 703.7 58.52 703.7 61.07 712.61" stroke="#00ffff" stroke-dashoffset="3.45"/>
<path d="M34.5 675.71 35.62 712.61" stroke="#ff00ff" stroke-dashoffset="4.6"/>
<path d="M34.5 673.17 36.9 711.34" stroke="#ffff00" stroke-dashoffset="5.75"/>
<path d="M34.5 713.37 134.35 713.37" stroke="#7e2f8e" stroke-dashoffset="8.05"/>
</g>
<text x="84.35" y="650.4" text-anchor="middle" font-size="7.4" textLength="11.28" lengthAdjust="spacingAndGlyphs">F21</text>
<text x="54.32" y="752.4" text-anchor="middle" font-size="6.7">100</text>
<text x="74.34" y="752.4" text-anchor="middle" font-size="6.7">200</text>
<text x="94.36" y="752.4" text-anchor="middle" font-size="6.7">300</text>
<text x="114.38" y="752.4" text-anchor="middle" font-size="6.7">400</text>
<text x="134.4" y="752.4" text-anchor="middle" font-size="6.7">500</text>
<text x="84.35" y="761.5" text-anchor="middle" font-size="7.25" textLength="66" lengthAdjust="spacing">Number of Iterations</text>
<text transform="translate(15.4 698.05) rotate(-90)" x="0" y="0" text-anchor="middle" font-size="7.7" textLength="35.4" lengthAdjust="spacingAndGlyphs">Best Fitness</text>
<text x="32.3" y="654.8" text-anchor="end" font-size="6.7">-10<tspan dy="-2.7" font-size="5.2">-1</tspan></text>
<text x="32.3" y="685.6" text-anchor="end" font-size="6.7">-10<tspan dy="-2.7" font-size="5.2">0</tspan></text>
<text x="32.3" y="716.3" text-anchor="end" font-size="6.7">-10<tspan dy="-2.7" font-size="5.2">1</tspan></text>
<text x="32.3" y="747.1" text-anchor="end" font-size="6.7">-10<tspan dy="-2.7" font-size="5.2">2</tspan></text>
<path d="M170.42 651.9V744.2M174.44 651.9V744.2M178.46 651.9V744.2M182.48 651.9V744.2M190.52 651.9V744.2M194.54 651.9V744.2M198.56 651.9V744.2M202.58 651.9V744.2M210.62 651.9V744.2M214.64 651.9V744.2M218.66 651.9V744.2M222.68 651.9V744.2M230.72 651.9V744.2M234.74 651.9V744.2M238.76 651.9V744.2M242.78 651.9V744.2M250.82 651.9V744.2M254.84 651.9V744.2M258.86 651.9V744.2M262.88 651.9V744.2" stroke="#f6f6f6" stroke-width="0.6" fill="none"/>
<path d="M166.4 661.17H266.9M166.4 666.6H266.9M166.4 670.44H266.9M166.4 673.43H266.9M166.4 675.87H266.9M166.4 677.93H266.9M166.4 679.72H266.9M166.4 681.29H266.9M166.4 691.97H266.9M166.4 697.4H266.9M166.4 701.24H266.9M166.4 704.23H266.9M166.4 706.67H266.9M166.4 708.73H266.9M166.4 710.52H266.9M166.4 712.09H266.9M166.4 722.77H266.9M166.4 728.2H266.9M166.4 732.04H266.9M166.4 735.03H266.9M166.4 737.47H266.9M166.4 739.53H266.9M166.4 741.32H266.9M166.4 742.89H266.9" stroke="#eeeeee" stroke-width="0.6" fill="none"/>
<path d="M186.5 651.9V744.2M206.6 651.9V744.2M226.7 651.9V744.2M246.8 651.9V744.2M166.4 682.7H266.9M166.4 713.4H266.9" stroke="#e4e4e4" stroke-width="0.8" fill="none"/>
<rect x="166.4" y="651.9" width="100.5" height="92.3" fill="none" stroke="#8a8a8a" stroke-width="0.8"/>
<clipPath id="cF22"><rect x="165.4" y="650.9" width="102.5" height="94.3"/></clipPath>
<g clip-path="url(#cF22)" fill="none" stroke-width="1.3" stroke-dasharray="5.4,1.1,1.5,1.2" stroke-linejoin="round">
<path d="M166.72 713.88 266.72 713.88" stroke="#ff0000" stroke-dashoffset="0"/>
<path d="M166.72 682.07 170.53 683.35 171.04 698.61 173.08 703.7" stroke="#00ff00" stroke-dashoffset="1.15"/>
<path d="M166.72 704.21 266.72 704.21" stroke="#0000ff" stroke-dashoffset="2.3"/>
<path d="M166.72 675.71 167.99 699.89 192.16 700.65 194.71 712.61 266.72 713.88" stroke="#ff00ff" stroke-dashoffset="4.6"/>
<path d="M166.72 685.89 169.26 712.61" stroke="#ffff00" stroke-dashoffset="5.75"/>
<path d="M166.72 713.88 266.72 713.88" stroke="#7e2f8e" stroke-dashoffset="8.05"/>
</g>
<text x="216.65" y="650.4" text-anchor="middle" font-size="7.4" textLength="11.28" lengthAdjust="spacingAndGlyphs">F22</text>
<text x="186.5" y="752.4" text-anchor="middle" font-size="6.7">100</text>
<text x="206.6" y="752.4" text-anchor="middle" font-size="6.7">200</text>
<text x="226.7" y="752.4" text-anchor="middle" font-size="6.7">300</text>
<text x="246.8" y="752.4" text-anchor="middle" font-size="6.7">400</text>
<text x="266.9" y="752.4" text-anchor="middle" font-size="6.7">500</text>
<text x="216.65" y="761.5" text-anchor="middle" font-size="7.25" textLength="66" lengthAdjust="spacing">Number of Iterations</text>
<text transform="translate(147.8 698.05) rotate(-90)" x="0" y="0" text-anchor="middle" font-size="7.7" textLength="35.4" lengthAdjust="spacingAndGlyphs">Best Fitness</text>
<text x="164.4" y="654.8" text-anchor="end" font-size="6.7">-10<tspan dy="-2.7" font-size="5.2">-1</tspan></text>
<text x="164.4" y="685.6" text-anchor="end" font-size="6.7">-10<tspan dy="-2.7" font-size="5.2">0</tspan></text>
<text x="164.4" y="716.3" text-anchor="end" font-size="6.7">-10<tspan dy="-2.7" font-size="5.2">1</tspan></text>
<text x="164.4" y="747.1" text-anchor="end" font-size="6.7">-10<tspan dy="-2.7" font-size="5.2">2</tspan></text>
<path d="M302.82 651.9V744.2M306.85 651.9V744.2M310.87 651.9V744.2M314.9 651.9V744.2M322.94 651.9V744.2M326.97 651.9V744.2M330.99 651.9V744.2M335.02 651.9V744.2M343.06 651.9V744.2M347.09 651.9V744.2M351.11 651.9V744.2M355.14 651.9V744.2M363.18 651.9V744.2M367.21 651.9V744.2M371.23 651.9V744.2M375.26 651.9V744.2M383.3 651.9V744.2M387.33 651.9V744.2M391.35 651.9V744.2M395.38 651.9V744.2" stroke="#f6f6f6" stroke-width="0.6" fill="none"/>
<path d="M298.8 661.17H399.4M298.8 666.6H399.4M298.8 670.44H399.4M298.8 673.43H399.4M298.8 675.87H399.4M298.8 677.93H399.4M298.8 679.72H399.4M298.8 681.29H399.4M298.8 691.97H399.4M298.8 697.4H399.4M298.8 701.24H399.4M298.8 704.23H399.4M298.8 706.67H399.4M298.8 708.73H399.4M298.8 710.52H399.4M298.8 712.09H399.4M298.8 722.77H399.4M298.8 728.2H399.4M298.8 732.04H399.4M298.8 735.03H399.4M298.8 737.47H399.4M298.8 739.53H399.4M298.8 741.32H399.4M298.8 742.89H399.4" stroke="#eeeeee" stroke-width="0.6" fill="none"/>
<path d="M318.92 651.9V744.2M339.04 651.9V744.2M359.16 651.9V744.2M379.28 651.9V744.2M298.8 682.7H399.4M298.8 713.4H399.4" stroke="#e4e4e4" stroke-width="0.8" fill="none"/>
<rect x="298.8" y="651.9" width="100.6" height="92.3" fill="none" stroke="#8a8a8a" stroke-width="0.8"/>
<clipPath id="cF23"><rect x="297.8" y="650.9" width="102.6" height="94.3"/></clipPath>
<g clip-path="url(#cF23)" fill="none" stroke-width="1.3" stroke-dasharray="5.4,1.1,1.5,1.2" stroke-linejoin="round">
<path d="M299 713.88 399.4 713.88" stroke="#ff0000" stroke-dashoffset="0"/>
<path d="M299.17 704.21 399.4 704.21" stroke="#00ff00" stroke-dashoffset="1.15"/>
<path d="M299 704.21 351.34 704.21 353.88 713.37 399.4 713.88" stroke="#0000ff" stroke-dashoffset="2.3"/>
<path d="M299 680.8 300.45 696.07 305.53 696.07 308.08 708.79 310.62 713.37" stroke="#00ffff" stroke-dashoffset="3.45"/>
<path d="M299 674.44 299.17 693.52 304.26 702.43 306.81 712.61" stroke="#ff00ff" stroke-dashoffset="4.6"/>
<path d="M299 690.98 310.62 713.88" stroke="#ffff00" stroke-dashoffset="5.75"/>
<path d="M299 713.88 399.4 713.88" stroke="#7e2f8e" stroke-dashoffset="8.05"/>
</g>
<text x="349.1" y="650.4" text-anchor="middle" font-size="7.4" textLength="11.28" lengthAdjust="spacingAndGlyphs">F23</text>
<text x="318.92" y="752.4" text-anchor="middle" font-size="6.7">100</text>
<text x="339.04" y="752.4" text-anchor="middle" font-size="6.7">200</text>
<text x="359.16" y="752.4" text-anchor="middle" font-size="6.7">300</text>
<text x="379.28" y="752.4" text-anchor="middle" font-size="6.7">400</text>
<text x="399.4" y="752.4" text-anchor="middle" font-size="6.7">500</text>
<text x="349.1" y="761.5" text-anchor="middle" font-size="7.25" textLength="66" lengthAdjust="spacing">Number of Iterations</text>
<text transform="translate(279.2 698.05) rotate(-90)" x="0" y="0" text-anchor="middle" font-size="7.7" textLength="35.4" lengthAdjust="spacingAndGlyphs">Best Fitness</text>
<text x="296.8" y="654.8" text-anchor="end" font-size="6.7">-10<tspan dy="-2.7" font-size="5.2">-1</tspan></text>
<text x="296.8" y="685.6" text-anchor="end" font-size="6.7">-10<tspan dy="-2.7" font-size="5.2">0</tspan></text>
<text x="296.8" y="716.3" text-anchor="end" font-size="6.7">-10<tspan dy="-2.7" font-size="5.2">1</tspan></text>
<text x="296.8" y="747.1" text-anchor="end" font-size="6.7">-10<tspan dy="-2.7" font-size="5.2">2</tspan></text>
<rect x="447.3" y="666.3" width="82.1" height="67.9" fill="#fff" stroke="#8a8a8a" stroke-width="0.7"/>
<path d="M452.2 671.4H469.6" stroke="#ff0000" stroke-width="1.3" stroke-dasharray="5.4,1.1,1.5,1.2" fill="none"/>
<text x="471.2" y="673.8" font-size="6.6">MLBRSA</text>
<path d="M452.2 679.77H469.6" stroke="#00ff00" stroke-width="1.3" stroke-dasharray="5.4,1.1,1.5,1.2" fill="none"/>
<text x="471.2" y="682.17" font-size="6.6">RSA</text>
<path d="M452.2 688.14H469.6" stroke="#0000ff" stroke-width="1.3" stroke-dasharray="5.4,1.1,1.5,1.2" fill="none"/>
<text x="471.2" y="690.54" font-size="6.6">IRSA</text>
<path d="M452.2 696.51H469.6" stroke="#00ffff" stroke-width="1.3" stroke-dasharray="5.4,1.1,1.5,1.2" fill="none"/>
<text x="471.2" y="698.91" font-size="6.6">RLBGWO</text>
<path d="M452.2 704.88H469.6" stroke="#ff00ff" stroke-width="1.3" stroke-dasharray="5.4,1.1,1.5,1.2" fill="none"/>
<text x="471.2" y="707.28" font-size="6.6">IDMOA</text>
<path d="M452.2 713.25H469.6" stroke="#ffff00" stroke-width="1.3" stroke-dasharray="5.4,1.1,1.5,1.2" fill="none"/>
<text x="471.2" y="715.65" font-size="6.6">LSHADE-cnEpSin</text>
<path d="M452.2 721.62H469.6" stroke="#000000" stroke-width="1.3" stroke-dasharray="5.4,1.1,1.5,1.2" fill="none"/>
<text x="471.2" y="724.02" font-size="6.6">AGSK</text>
<path d="M452.2 729.99H469.6" stroke="#7e2f8e" stroke-width="1.3" stroke-dasharray="5.4,1.1,1.5,1.2" fill="none"/>
<text x="471.2" y="732.39" font-size="6.6">RLAOA</text>
</svg>
</body></html>
